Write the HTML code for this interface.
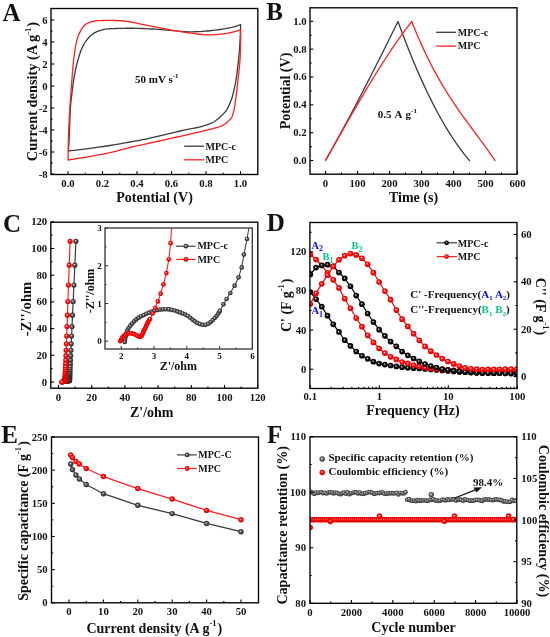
<!DOCTYPE html>
<html><head><meta charset="utf-8"><style>html,body{margin:0;padding:0;background:#fff;width:550px;height:637px;overflow:hidden}</style></head>
<body>
<svg width="550" height="637" viewBox="0 0 550 637" style="display:block;filter:blur(0.3px);font-family:'Liberation Serif',serif;font-weight:bold">
<defs>
<radialGradient id="gk" cx="0.5" cy="0.5" r="0.5" fx="0.42" fy="0.4"><stop offset="0" stop-color="#fff"/><stop offset="0.22" stop-color="#777"/><stop offset="0.42" stop-color="#111"/><stop offset="1" stop-color="#000"/></radialGradient>
<radialGradient id="gg" cx="0.5" cy="0.5" r="0.5" fx="0.4" fy="0.38"><stop offset="0" stop-color="#fff"/><stop offset="0.3" stop-color="#999"/><stop offset="0.65" stop-color="#555"/><stop offset="1" stop-color="#333"/></radialGradient>
<radialGradient id="gr" cx="0.5" cy="0.5" r="0.5" fx="0.4" fy="0.38"><stop offset="0" stop-color="#fff"/><stop offset="0.28" stop-color="#ff5050"/><stop offset="0.6" stop-color="#ff0000"/><stop offset="1" stop-color="#e00000"/></radialGradient>
<radialGradient id="gc" cx="0.5" cy="0.5" r="0.5" fx="0.4" fy="0.38"><stop offset="0" stop-color="#f4f4f4"/><stop offset="0.3" stop-color="#777"/><stop offset="0.65" stop-color="#444"/><stop offset="1" stop-color="#262626"/></radialGradient>
</defs>
<rect width="550" height="637" fill="#fff"/>
<polyline points="68.40,151.00 68.48,149.81 68.59,148.19 68.72,146.25 68.86,144.15 68.99,142.02 69.10,140.00 69.19,138.14 69.27,136.33 69.35,134.50 69.43,132.56 69.51,130.42 69.60,128.00 69.69,125.21 69.78,122.09 69.87,118.77 69.99,115.40 70.12,112.10 70.30,109.00 70.52,106.12 70.77,103.34 71.05,100.64 71.35,97.97 71.67,95.30 72.00,92.60 72.34,89.84 72.69,87.05 73.06,84.26 73.45,81.50 73.86,78.81 74.30,76.20 74.75,73.70 75.22,71.30 75.71,68.95 76.23,66.64 76.79,64.33 77.40,62.00 78.06,59.60 78.77,57.15 79.52,54.71 80.31,52.33 81.13,50.07 82.00,48.00 82.91,46.11 83.86,44.37 84.85,42.74 85.87,41.23 86.93,39.82 88.00,38.50 89.08,37.28 90.17,36.17 91.29,35.16 92.45,34.24 93.68,33.39 95.00,32.60 96.47,31.87 98.10,31.20 99.79,30.61 101.46,30.10 103.03,29.66 104.40,29.30 105.50,29.05 106.39,28.92 107.16,28.87 107.95,28.86 108.86,28.85 110.00,28.80 111.34,28.72 112.79,28.65 114.35,28.57 116.06,28.51 117.94,28.45 120.00,28.40 122.28,28.35 124.78,28.31 127.44,28.27 130.22,28.25 133.09,28.26 136.00,28.30 139.00,28.39 142.15,28.50 145.38,28.65 148.63,28.82 151.86,29.00 155.00,29.20 158.07,29.42 161.11,29.67 164.12,29.94 167.11,30.21 170.07,30.47 173.00,30.70 175.91,30.93 178.81,31.16 181.69,31.38 184.52,31.57 187.29,31.72 190.00,31.80 192.62,31.81 195.15,31.77 197.62,31.68 200.07,31.54 202.52,31.38 205.00,31.20 207.53,30.99 210.11,30.73 212.69,30.45 215.22,30.14 217.67,29.82 220.00,29.50 222.21,29.17 224.34,28.82 226.39,28.46 228.36,28.08 230.23,27.70 232.00,27.30 233.74,26.86 235.47,26.37 237.10,25.86 238.57,25.39 239.79,24.99 240.70,24.70 240.61,26.97 240.48,30.16 240.33,33.91 240.16,37.87 239.98,41.69 239.80,45.00 239.62,47.75 239.44,50.21 239.25,52.52 239.04,54.83 238.79,57.27 238.50,60.00 238.16,63.09 237.79,66.44 237.39,69.94 236.95,73.44 236.49,76.84 236.00,80.00 235.46,83.00 234.87,85.96 234.25,88.81 233.63,91.48 233.04,93.90 232.50,96.00 232.04,97.69 231.63,99.00 231.24,100.06 230.86,101.00 230.46,101.94 230.00,103.00 229.49,104.20 228.95,105.43 228.39,106.66 227.80,107.85 227.21,108.98 226.60,110.00 225.98,110.91 225.33,111.72 224.67,112.47 224.00,113.17 223.34,113.84 222.70,114.50 222.09,115.14 221.50,115.73 220.92,116.29 220.32,116.85 219.69,117.41 219.00,118.00 218.23,118.64 217.39,119.32 216.52,120.01 215.64,120.67 214.79,121.28 214.00,121.80 213.34,122.20 212.81,122.49 212.31,122.73 211.74,122.96 211.00,123.24 210.00,123.60 208.80,124.05 207.48,124.56 206.00,125.11 204.30,125.69 202.31,126.29 200.00,126.90 197.36,127.50 194.44,128.09 191.25,128.71 187.78,129.37 184.03,130.13 180.00,131.00 175.46,132.06 170.37,133.30 165.00,134.62 159.63,135.94 154.54,137.16 150.00,138.20 146.09,139.03 142.59,139.73 139.38,140.33 136.30,140.88 133.22,141.42 130.00,142.00 126.67,142.61 123.33,143.21 120.00,143.81 116.67,144.40 113.33,144.96 110.00,145.50 106.69,146.01 103.39,146.49 100.10,146.95 96.79,147.40 93.43,147.85 90.00,148.30 86.24,148.79 82.12,149.31 77.95,149.83 74.06,150.30 70.77,150.71 68.40,151.00" fill="none" stroke="#3a3a3a" stroke-width="1.3" stroke-linejoin="round" stroke-linecap="round"/>
<polyline points="68.10,160.00 68.11,159.00 68.11,157.68 68.12,156.09 68.14,154.25 68.16,152.21 68.20,150.00 68.24,147.60 68.28,144.98 68.33,142.15 68.40,139.13 68.48,135.94 68.60,132.60 68.75,129.02 68.92,125.19 69.12,121.17 69.33,117.08 69.56,112.99 69.80,109.00 70.05,105.09 70.32,101.19 70.61,97.30 70.90,93.41 71.20,89.51 71.50,85.60 71.79,81.62 72.09,77.57 72.38,73.51 72.69,69.52 73.03,65.66 73.40,62.00 73.81,58.49 74.24,55.07 74.70,51.79 75.18,48.68 75.68,45.80 76.20,43.20 76.72,40.93 77.23,38.97 77.76,37.24 78.33,35.65 78.97,34.13 79.70,32.60 80.50,31.04 81.36,29.51 82.28,28.05 83.29,26.69 84.39,25.46 85.60,24.40 87.02,23.52 88.64,22.80 90.36,22.21 92.06,21.73 93.65,21.34 95.00,21.00 96.03,20.76 96.81,20.64 97.46,20.60 98.13,20.61 98.93,20.62 100.00,20.60 101.30,20.54 102.70,20.48 104.25,20.42 105.96,20.38 107.87,20.37 110.00,20.40 112.42,20.46 115.11,20.52 118.00,20.61 121.00,20.76 124.03,20.98 127.00,21.30 129.93,21.74 132.89,22.29 135.88,22.92 138.89,23.59 141.93,24.26 145.00,24.90 148.12,25.53 151.30,26.18 154.50,26.83 157.70,27.48 160.88,28.10 164.00,28.70 167.06,29.26 170.07,29.81 173.06,30.33 176.04,30.84 179.01,31.33 182.00,31.80 185.07,32.27 188.22,32.75 191.38,33.21 194.44,33.64 197.35,34.01 200.00,34.30 202.34,34.52 204.41,34.68 206.31,34.78 208.15,34.83 210.01,34.84 212.00,34.80 214.16,34.71 216.41,34.55 218.69,34.34 220.93,34.11 223.05,33.85 225.00,33.60 226.76,33.34 228.38,33.05 229.89,32.74 231.32,32.43 232.68,32.11 234.00,31.80 235.33,31.47 236.65,31.10 237.91,30.74 239.05,30.40 240.00,30.11 240.70,29.90 240.68,31.54 240.66,33.82 240.63,36.51 240.60,39.41 240.55,42.31 240.50,45.00 240.45,47.45 240.41,49.82 240.36,52.19 240.29,54.63 240.17,57.21 240.00,60.00 239.75,63.08 239.44,66.41 239.09,69.88 238.72,73.37 238.35,76.78 238.00,80.00 237.67,83.05 237.33,86.04 237.00,88.94 236.67,91.74 236.33,94.43 236.00,97.00 235.67,99.46 235.35,101.83 235.03,104.09 234.70,106.22 234.36,108.20 234.00,110.00 233.64,111.59 233.30,112.99 232.94,114.24 232.54,115.37 232.07,116.45 231.50,117.50 230.82,118.52 230.04,119.46 229.19,120.33 228.29,121.16 227.36,121.94 226.40,122.70 225.57,123.40 224.87,124.01 224.13,124.59 223.19,125.17 221.87,125.80 220.00,126.50 217.51,127.29 214.53,128.14 211.16,129.03 207.54,129.95 203.78,130.88 200.00,131.80 196.12,132.73 192.04,133.68 187.81,134.64 183.52,135.60 179.22,136.56 175.00,137.50 170.78,138.44 166.48,139.39 162.19,140.32 157.96,141.25 153.88,142.14 150.00,143.00 146.38,143.80 142.96,144.55 139.69,145.27 136.48,145.99 133.28,146.72 130.00,147.50 126.67,148.34 123.33,149.24 120.00,150.15 116.67,151.05 113.33,151.91 110.00,152.70 106.69,153.40 103.40,154.05 100.11,154.65 96.80,155.23 93.44,155.81 90.00,156.40 86.22,157.05 82.06,157.74 77.85,158.43 73.92,159.07 70.59,159.61 68.20,160.00" fill="none" stroke="#ff2020" stroke-width="1.3" stroke-linejoin="round" stroke-linecap="round"/>
<rect x="51.00" y="8.50" width="206.80" height="166.00" fill="none" stroke="#000" stroke-width="1.35"/>
<line x1="68.00" y1="174.50" x2="68.00" y2="171.20" stroke="#000" stroke-width="1.1" />
<line x1="102.50" y1="174.50" x2="102.50" y2="171.20" stroke="#000" stroke-width="1.1" />
<line x1="137.00" y1="174.50" x2="137.00" y2="171.20" stroke="#000" stroke-width="1.1" />
<line x1="171.50" y1="174.50" x2="171.50" y2="171.20" stroke="#000" stroke-width="1.1" />
<line x1="206.00" y1="174.50" x2="206.00" y2="171.20" stroke="#000" stroke-width="1.1" />
<line x1="240.50" y1="174.50" x2="240.50" y2="171.20" stroke="#000" stroke-width="1.1" />
<line x1="85.25" y1="174.50" x2="85.25" y2="172.80" stroke="#000" stroke-width="1.1" />
<line x1="119.75" y1="174.50" x2="119.75" y2="172.80" stroke="#000" stroke-width="1.1" />
<line x1="154.25" y1="174.50" x2="154.25" y2="172.80" stroke="#000" stroke-width="1.1" />
<line x1="188.75" y1="174.50" x2="188.75" y2="172.80" stroke="#000" stroke-width="1.1" />
<line x1="223.25" y1="174.50" x2="223.25" y2="172.80" stroke="#000" stroke-width="1.1" />
<line x1="51.00" y1="174.00" x2="54.30" y2="174.00" stroke="#000" stroke-width="1.1" />
<line x1="51.00" y1="152.00" x2="54.30" y2="152.00" stroke="#000" stroke-width="1.1" />
<line x1="51.00" y1="130.00" x2="54.30" y2="130.00" stroke="#000" stroke-width="1.1" />
<line x1="51.00" y1="108.00" x2="54.30" y2="108.00" stroke="#000" stroke-width="1.1" />
<line x1="51.00" y1="86.00" x2="54.30" y2="86.00" stroke="#000" stroke-width="1.1" />
<line x1="51.00" y1="64.00" x2="54.30" y2="64.00" stroke="#000" stroke-width="1.1" />
<line x1="51.00" y1="42.00" x2="54.30" y2="42.00" stroke="#000" stroke-width="1.1" />
<line x1="51.00" y1="20.00" x2="54.30" y2="20.00" stroke="#000" stroke-width="1.1" />
<line x1="51.00" y1="163.00" x2="52.70" y2="163.00" stroke="#000" stroke-width="1.1" />
<line x1="51.00" y1="141.00" x2="52.70" y2="141.00" stroke="#000" stroke-width="1.1" />
<line x1="51.00" y1="119.00" x2="52.70" y2="119.00" stroke="#000" stroke-width="1.1" />
<line x1="51.00" y1="97.00" x2="52.70" y2="97.00" stroke="#000" stroke-width="1.1" />
<line x1="51.00" y1="75.00" x2="52.70" y2="75.00" stroke="#000" stroke-width="1.1" />
<line x1="51.00" y1="53.00" x2="52.70" y2="53.00" stroke="#000" stroke-width="1.1" />
<line x1="51.00" y1="31.00" x2="52.70" y2="31.00" stroke="#000" stroke-width="1.1" />
<text x="68.00" y="187.00" font-size="10.7" text-anchor="middle" fill="#111" font-weight="bold" >0.0</text>
<text x="102.50" y="187.00" font-size="10.7" text-anchor="middle" fill="#111" font-weight="bold" >0.2</text>
<text x="137.00" y="187.00" font-size="10.7" text-anchor="middle" fill="#111" font-weight="bold" >0.4</text>
<text x="171.50" y="187.00" font-size="10.7" text-anchor="middle" fill="#111" font-weight="bold" >0.6</text>
<text x="206.00" y="187.00" font-size="10.7" text-anchor="middle" fill="#111" font-weight="bold" >0.8</text>
<text x="240.50" y="187.00" font-size="10.7" text-anchor="middle" fill="#111" font-weight="bold" >1.0</text>
<text x="47.60" y="177.50" font-size="10.7" text-anchor="end" fill="#111" font-weight="bold" >-8</text>
<text x="47.60" y="155.50" font-size="10.7" text-anchor="end" fill="#111" font-weight="bold" >-6</text>
<text x="47.60" y="133.50" font-size="10.7" text-anchor="end" fill="#111" font-weight="bold" >-4</text>
<text x="47.60" y="111.50" font-size="10.7" text-anchor="end" fill="#111" font-weight="bold" >-2</text>
<text x="47.60" y="89.50" font-size="10.7" text-anchor="end" fill="#111" font-weight="bold" >0</text>
<text x="47.60" y="67.50" font-size="10.7" text-anchor="end" fill="#111" font-weight="bold" >2</text>
<text x="47.60" y="45.50" font-size="10.7" text-anchor="end" fill="#111" font-weight="bold" >4</text>
<text x="47.60" y="23.50" font-size="10.7" text-anchor="end" fill="#111" font-weight="bold" >6</text>
<text x="154.50" y="202.00" font-size="14" text-anchor="middle" fill="#111" font-weight="bold" >Potential (V)</text>
<text x="37.20" y="91.50" font-size="14.4" text-anchor="middle" fill="#111" font-weight="bold" transform="rotate(-90 37.20 91.50)" >Current density (A g<tspan font-size="8.5" dy="-6.4">-1</tspan><tspan dy="6.4" dx="1">)</tspan></text>
<text x="135.00" y="83.20" font-size="11" text-anchor="start" fill="#111" font-weight="bold" >50 mV s<tspan font-size="7" dy="-5.2">-1</tspan></text>
<line x1="184.20" y1="146.20" x2="204.00" y2="146.20" stroke="#3a3a3a" stroke-width="1.3" />
<line x1="184.20" y1="159.80" x2="204.00" y2="159.80" stroke="#ff2020" stroke-width="1.3" />
<text x="205.50" y="149.60" font-size="10" text-anchor="start" fill="#111" font-weight="bold" >MPC-c</text>
<text x="205.50" y="163.00" font-size="10" text-anchor="start" fill="#111" font-weight="bold" >MPC</text>
<text x="2.50" y="21.00" font-size="25" text-anchor="start" fill="#111" font-weight="bold" >A</text>
<polyline points="325.50,160.50 327.36,157.23 329.22,153.93 331.08,150.62 332.94,147.29 334.79,143.94 336.65,140.57 338.51,137.18 340.37,133.78 342.23,130.36 344.09,126.92 345.95,123.46 347.81,119.99 349.67,116.51 351.53,113.01 353.38,109.49 355.24,105.96 357.10,102.41 358.96,98.85 360.82,95.28 362.68,91.70 364.54,88.10 366.40,84.48 368.26,80.86 370.12,77.23 371.97,73.58 373.83,69.92 375.69,66.25 377.55,62.57 379.41,58.88 381.27,55.18 383.13,51.47 384.99,47.75 386.85,44.03 388.71,40.29 390.56,36.55 392.42,32.80 394.28,29.04 396.14,25.27 398.00,21.50 399.83,26.51 401.67,31.45 403.50,36.31 405.33,41.09 407.17,45.79 409.00,50.42 410.83,54.96 412.67,59.43 414.50,63.82 416.33,68.14 418.17,72.38 420.00,76.54 421.83,80.62 423.67,84.63 425.50,88.56 427.33,92.42 429.17,96.19 431.00,99.90 432.83,103.53 434.67,107.08 436.50,110.56 438.33,113.96 440.17,117.29 442.00,120.54 443.83,123.72 445.67,126.82 447.50,129.85 449.33,132.81 451.17,135.69 453.00,138.50 454.83,141.23 456.67,143.90 458.50,146.49 460.33,149.00 462.17,151.45 464.00,153.82 465.83,156.12 467.67,158.34 469.50,160.50" fill="none" stroke="#3a3a3a" stroke-width="1.3" stroke-linejoin="round" stroke-linecap="round"/>
<polyline points="325.50,160.50 327.71,156.58 329.93,152.66 332.14,148.74 334.35,144.82 336.56,140.91 338.78,137.00 340.99,133.10 343.20,129.21 345.42,125.32 347.63,121.45 349.84,117.59 352.05,113.75 354.27,109.92 356.48,106.11 358.69,102.32 360.91,98.55 363.12,94.81 365.33,91.09 367.54,87.39 369.76,83.73 371.97,80.09 374.18,76.49 376.39,72.91 378.61,69.37 380.82,65.87 383.03,62.40 385.25,58.98 387.46,55.59 389.67,52.25 391.88,48.95 394.10,45.70 396.31,42.49 398.52,39.33 400.74,36.22 402.95,33.17 405.16,30.17 407.37,27.22 409.59,24.33 411.80,21.50 413.93,26.90 416.07,32.14 418.20,37.21 420.33,42.12 422.47,46.88 424.60,51.49 426.73,55.97 428.87,60.30 431.00,64.51 433.13,68.60 435.27,72.57 437.40,76.43 439.53,80.19 441.67,83.85 443.80,87.41 445.93,90.89 448.07,94.29 450.20,97.61 452.33,100.86 454.47,104.05 456.60,107.18 458.73,110.26 460.87,113.30 463.00,116.29 465.13,119.25 467.27,122.19 469.40,125.10 471.53,128.00 473.67,130.88 475.80,133.76 477.93,136.65 480.07,139.54 482.20,142.45 484.33,145.37 486.47,148.32 488.60,151.30 490.73,154.32 492.87,157.39 495.00,160.50" fill="none" stroke="#ff2020" stroke-width="1.3" stroke-linejoin="round" stroke-linecap="round"/>
<rect x="310.00" y="7.80" width="207.00" height="166.40" fill="none" stroke="#000" stroke-width="1.35"/>
<line x1="325.50" y1="174.20" x2="325.50" y2="170.90" stroke="#000" stroke-width="1.1" />
<line x1="357.50" y1="174.20" x2="357.50" y2="170.90" stroke="#000" stroke-width="1.1" />
<line x1="389.50" y1="174.20" x2="389.50" y2="170.90" stroke="#000" stroke-width="1.1" />
<line x1="421.50" y1="174.20" x2="421.50" y2="170.90" stroke="#000" stroke-width="1.1" />
<line x1="453.50" y1="174.20" x2="453.50" y2="170.90" stroke="#000" stroke-width="1.1" />
<line x1="485.50" y1="174.20" x2="485.50" y2="170.90" stroke="#000" stroke-width="1.1" />
<line x1="517.50" y1="174.20" x2="517.50" y2="170.90" stroke="#000" stroke-width="1.1" />
<line x1="341.50" y1="174.20" x2="341.50" y2="172.50" stroke="#000" stroke-width="1.1" />
<line x1="373.50" y1="174.20" x2="373.50" y2="172.50" stroke="#000" stroke-width="1.1" />
<line x1="405.50" y1="174.20" x2="405.50" y2="172.50" stroke="#000" stroke-width="1.1" />
<line x1="437.50" y1="174.20" x2="437.50" y2="172.50" stroke="#000" stroke-width="1.1" />
<line x1="469.50" y1="174.20" x2="469.50" y2="172.50" stroke="#000" stroke-width="1.1" />
<line x1="501.50" y1="174.20" x2="501.50" y2="172.50" stroke="#000" stroke-width="1.1" />
<line x1="310.00" y1="160.50" x2="313.30" y2="160.50" stroke="#000" stroke-width="1.1" />
<line x1="310.00" y1="132.66" x2="313.30" y2="132.66" stroke="#000" stroke-width="1.1" />
<line x1="310.00" y1="104.82" x2="313.30" y2="104.82" stroke="#000" stroke-width="1.1" />
<line x1="310.00" y1="76.98" x2="313.30" y2="76.98" stroke="#000" stroke-width="1.1" />
<line x1="310.00" y1="49.14" x2="313.30" y2="49.14" stroke="#000" stroke-width="1.1" />
<line x1="310.00" y1="21.30" x2="313.30" y2="21.30" stroke="#000" stroke-width="1.1" />
<line x1="310.00" y1="146.58" x2="311.70" y2="146.58" stroke="#000" stroke-width="1.1" />
<line x1="310.00" y1="118.74" x2="311.70" y2="118.74" stroke="#000" stroke-width="1.1" />
<line x1="310.00" y1="90.90" x2="311.70" y2="90.90" stroke="#000" stroke-width="1.1" />
<line x1="310.00" y1="63.06" x2="311.70" y2="63.06" stroke="#000" stroke-width="1.1" />
<line x1="310.00" y1="35.22" x2="311.70" y2="35.22" stroke="#000" stroke-width="1.1" />
<text x="325.50" y="187.00" font-size="10.7" text-anchor="middle" fill="#111" font-weight="bold" >0</text>
<text x="357.50" y="187.00" font-size="10.7" text-anchor="middle" fill="#111" font-weight="bold" >100</text>
<text x="389.50" y="187.00" font-size="10.7" text-anchor="middle" fill="#111" font-weight="bold" >200</text>
<text x="421.50" y="187.00" font-size="10.7" text-anchor="middle" fill="#111" font-weight="bold" >300</text>
<text x="453.50" y="187.00" font-size="10.7" text-anchor="middle" fill="#111" font-weight="bold" >400</text>
<text x="485.50" y="187.00" font-size="10.7" text-anchor="middle" fill="#111" font-weight="bold" >500</text>
<text x="517.50" y="187.00" font-size="10.7" text-anchor="middle" fill="#111" font-weight="bold" >600</text>
<text x="306.50" y="164.00" font-size="10.7" text-anchor="end" fill="#111" font-weight="bold" >0.0</text>
<text x="306.50" y="136.16" font-size="10.7" text-anchor="end" fill="#111" font-weight="bold" >0.2</text>
<text x="306.50" y="108.32" font-size="10.7" text-anchor="end" fill="#111" font-weight="bold" >0.4</text>
<text x="306.50" y="80.48" font-size="10.7" text-anchor="end" fill="#111" font-weight="bold" >0.6</text>
<text x="306.50" y="52.64" font-size="10.7" text-anchor="end" fill="#111" font-weight="bold" >0.8</text>
<text x="306.50" y="24.80" font-size="10.7" text-anchor="end" fill="#111" font-weight="bold" >1.0</text>
<text x="413.50" y="202.00" font-size="14" text-anchor="middle" fill="#111" font-weight="bold" >Time (s)</text>
<text x="289.50" y="91.00" font-size="14" text-anchor="middle" fill="#111" font-weight="bold" transform="rotate(-90 289.50 91.00)" >Potential (V)</text>
<text x="377.80" y="117.70" font-size="11" text-anchor="start" fill="#111" font-weight="bold" word-spacing="0.9">0.5 A g<tspan font-size="7" dy="-5.2">-1</tspan></text>
<line x1="436.10" y1="32.30" x2="456.10" y2="32.30" stroke="#3a3a3a" stroke-width="1.3" />
<line x1="436.10" y1="46.10" x2="456.10" y2="46.10" stroke="#ff2020" stroke-width="1.3" />
<text x="457.70" y="35.50" font-size="10" text-anchor="start" fill="#111" font-weight="bold" >MPC-c</text>
<text x="457.70" y="49.30" font-size="10" text-anchor="start" fill="#111" font-weight="bold" >MPC</text>
<text x="266.30" y="20.00" font-size="25" text-anchor="start" fill="#111" font-weight="bold" >B</text>
<polyline points="75.93,241.29 74.83,265.21 73.92,285.07 73.16,301.54 72.53,315.22 72.01,326.57 71.57,336.00 71.21,343.82 70.91,350.31 70.67,355.70 70.46,360.17 70.29,363.88 70.15,366.96 70.03,369.52 69.93,371.64 69.85,373.40 69.78,374.86 69.73,376.08 69.68,377.08 69.64,377.92 69.61,378.61 69.59,379.19 69.56,379.67 69.55,380.06 69.53,380.39 69.52,380.67 68.96,380.80 67.80,381.20 66.14,381.40 64.48,380.93 62.98,381.27 61.99,382.00" fill="none" stroke="#3a3a3a" stroke-width="1.2" stroke-linejoin="round" stroke-linecap="round"/>
<polyline points="70.12,241.29 69.25,265.21 68.52,285.07 67.92,301.54 67.42,315.22 67.00,326.57 66.66,336.00 66.37,343.82 66.13,350.31 65.94,355.70 65.77,360.17 65.64,363.88 65.52,366.96 65.43,369.52 65.35,371.64 65.29,373.40 65.24,374.86 65.19,376.08 65.15,377.08 65.12,377.92 65.10,378.61 65.08,379.19 65.06,379.67 65.04,380.06 65.03,380.39 65.02,380.67 64.48,381.20 63.48,381.60 62.65,381.80 61.82,382.00" fill="none" stroke="#ff2020" stroke-width="1.2" stroke-linejoin="round" stroke-linecap="round"/>
<circle cx="75.93" cy="241.29" r="2.6" fill="url(#gc)"/>
<circle cx="74.83" cy="265.21" r="2.6" fill="url(#gc)"/>
<circle cx="73.92" cy="285.07" r="2.6" fill="url(#gc)"/>
<circle cx="73.16" cy="301.54" r="2.6" fill="url(#gc)"/>
<circle cx="72.53" cy="315.22" r="2.6" fill="url(#gc)"/>
<circle cx="72.01" cy="326.57" r="2.6" fill="url(#gc)"/>
<circle cx="71.57" cy="336.00" r="2.6" fill="url(#gc)"/>
<circle cx="71.21" cy="343.82" r="2.6" fill="url(#gc)"/>
<circle cx="70.91" cy="350.31" r="2.6" fill="url(#gc)"/>
<circle cx="70.67" cy="355.70" r="2.6" fill="url(#gc)"/>
<circle cx="70.46" cy="360.17" r="2.6" fill="url(#gc)"/>
<circle cx="70.29" cy="363.88" r="2.6" fill="url(#gc)"/>
<circle cx="70.15" cy="366.96" r="2.6" fill="url(#gc)"/>
<circle cx="70.03" cy="369.52" r="2.6" fill="url(#gc)"/>
<circle cx="69.93" cy="371.64" r="2.6" fill="url(#gc)"/>
<circle cx="69.85" cy="373.40" r="2.6" fill="url(#gc)"/>
<circle cx="69.78" cy="374.86" r="2.6" fill="url(#gc)"/>
<circle cx="69.73" cy="376.08" r="2.6" fill="url(#gc)"/>
<circle cx="69.68" cy="377.08" r="2.6" fill="url(#gc)"/>
<circle cx="69.64" cy="377.92" r="2.6" fill="url(#gc)"/>
<circle cx="69.61" cy="378.61" r="2.6" fill="url(#gc)"/>
<circle cx="69.59" cy="379.19" r="2.6" fill="url(#gc)"/>
<circle cx="69.56" cy="379.67" r="2.6" fill="url(#gc)"/>
<circle cx="69.55" cy="380.06" r="2.6" fill="url(#gc)"/>
<circle cx="69.53" cy="380.39" r="2.6" fill="url(#gc)"/>
<circle cx="69.52" cy="380.67" r="2.6" fill="url(#gc)"/>
<circle cx="68.96" cy="380.80" r="2.6" fill="url(#gc)"/>
<circle cx="67.80" cy="381.20" r="2.6" fill="url(#gc)"/>
<circle cx="66.14" cy="381.40" r="2.6" fill="url(#gc)"/>
<circle cx="64.48" cy="380.93" r="2.6" fill="url(#gc)"/>
<circle cx="62.98" cy="381.27" r="2.6" fill="url(#gc)"/>
<circle cx="61.99" cy="382.00" r="2.6" fill="url(#gc)"/>
<circle cx="70.12" cy="241.29" r="2.6" fill="url(#gr)"/>
<circle cx="69.25" cy="265.21" r="2.6" fill="url(#gr)"/>
<circle cx="68.52" cy="285.07" r="2.6" fill="url(#gr)"/>
<circle cx="67.92" cy="301.54" r="2.6" fill="url(#gr)"/>
<circle cx="67.42" cy="315.22" r="2.6" fill="url(#gr)"/>
<circle cx="67.00" cy="326.57" r="2.6" fill="url(#gr)"/>
<circle cx="66.66" cy="336.00" r="2.6" fill="url(#gr)"/>
<circle cx="66.37" cy="343.82" r="2.6" fill="url(#gr)"/>
<circle cx="66.13" cy="350.31" r="2.6" fill="url(#gr)"/>
<circle cx="65.94" cy="355.70" r="2.6" fill="url(#gr)"/>
<circle cx="65.77" cy="360.17" r="2.6" fill="url(#gr)"/>
<circle cx="65.64" cy="363.88" r="2.6" fill="url(#gr)"/>
<circle cx="65.52" cy="366.96" r="2.6" fill="url(#gr)"/>
<circle cx="65.43" cy="369.52" r="2.6" fill="url(#gr)"/>
<circle cx="65.35" cy="371.64" r="2.6" fill="url(#gr)"/>
<circle cx="65.29" cy="373.40" r="2.6" fill="url(#gr)"/>
<circle cx="65.24" cy="374.86" r="2.6" fill="url(#gr)"/>
<circle cx="65.19" cy="376.08" r="2.6" fill="url(#gr)"/>
<circle cx="65.15" cy="377.08" r="2.6" fill="url(#gr)"/>
<circle cx="65.12" cy="377.92" r="2.6" fill="url(#gr)"/>
<circle cx="65.10" cy="378.61" r="2.6" fill="url(#gr)"/>
<circle cx="65.08" cy="379.19" r="2.6" fill="url(#gr)"/>
<circle cx="65.06" cy="379.67" r="2.6" fill="url(#gr)"/>
<circle cx="65.04" cy="380.06" r="2.6" fill="url(#gr)"/>
<circle cx="65.03" cy="380.39" r="2.6" fill="url(#gr)"/>
<circle cx="65.02" cy="380.67" r="2.6" fill="url(#gr)"/>
<circle cx="64.48" cy="381.20" r="2.6" fill="url(#gr)"/>
<circle cx="63.48" cy="381.60" r="2.6" fill="url(#gr)"/>
<circle cx="62.65" cy="381.80" r="2.6" fill="url(#gr)"/>
<circle cx="61.82" cy="382.00" r="2.6" fill="url(#gr)"/>
<rect x="50.80" y="222.20" width="207.00" height="166.00" fill="none" stroke="#000" stroke-width="1.35"/>
<line x1="58.50" y1="388.20" x2="58.50" y2="384.90" stroke="#000" stroke-width="1.1" />
<line x1="91.70" y1="388.20" x2="91.70" y2="384.90" stroke="#000" stroke-width="1.1" />
<line x1="124.90" y1="388.20" x2="124.90" y2="384.90" stroke="#000" stroke-width="1.1" />
<line x1="158.10" y1="388.20" x2="158.10" y2="384.90" stroke="#000" stroke-width="1.1" />
<line x1="191.30" y1="388.20" x2="191.30" y2="384.90" stroke="#000" stroke-width="1.1" />
<line x1="224.50" y1="388.20" x2="224.50" y2="384.90" stroke="#000" stroke-width="1.1" />
<line x1="257.70" y1="388.20" x2="257.70" y2="384.90" stroke="#000" stroke-width="1.1" />
<line x1="75.10" y1="388.20" x2="75.10" y2="386.50" stroke="#000" stroke-width="1.1" />
<line x1="108.30" y1="388.20" x2="108.30" y2="386.50" stroke="#000" stroke-width="1.1" />
<line x1="141.50" y1="388.20" x2="141.50" y2="386.50" stroke="#000" stroke-width="1.1" />
<line x1="174.70" y1="388.20" x2="174.70" y2="386.50" stroke="#000" stroke-width="1.1" />
<line x1="207.90" y1="388.20" x2="207.90" y2="386.50" stroke="#000" stroke-width="1.1" />
<line x1="241.10" y1="388.20" x2="241.10" y2="386.50" stroke="#000" stroke-width="1.1" />
<line x1="50.80" y1="382.00" x2="54.10" y2="382.00" stroke="#000" stroke-width="1.1" />
<line x1="50.80" y1="355.30" x2="54.10" y2="355.30" stroke="#000" stroke-width="1.1" />
<line x1="50.80" y1="328.60" x2="54.10" y2="328.60" stroke="#000" stroke-width="1.1" />
<line x1="50.80" y1="301.90" x2="54.10" y2="301.90" stroke="#000" stroke-width="1.1" />
<line x1="50.80" y1="275.20" x2="54.10" y2="275.20" stroke="#000" stroke-width="1.1" />
<line x1="50.80" y1="248.50" x2="54.10" y2="248.50" stroke="#000" stroke-width="1.1" />
<line x1="50.80" y1="221.80" x2="54.10" y2="221.80" stroke="#000" stroke-width="1.1" />
<line x1="50.80" y1="368.65" x2="52.50" y2="368.65" stroke="#000" stroke-width="1.1" />
<line x1="50.80" y1="341.95" x2="52.50" y2="341.95" stroke="#000" stroke-width="1.1" />
<line x1="50.80" y1="315.25" x2="52.50" y2="315.25" stroke="#000" stroke-width="1.1" />
<line x1="50.80" y1="288.55" x2="52.50" y2="288.55" stroke="#000" stroke-width="1.1" />
<line x1="50.80" y1="261.85" x2="52.50" y2="261.85" stroke="#000" stroke-width="1.1" />
<line x1="50.80" y1="235.15" x2="52.50" y2="235.15" stroke="#000" stroke-width="1.1" />
<text x="58.50" y="401.30" font-size="10.7" text-anchor="middle" fill="#111" font-weight="bold" >0</text>
<text x="91.70" y="401.30" font-size="10.7" text-anchor="middle" fill="#111" font-weight="bold" >20</text>
<text x="124.90" y="401.30" font-size="10.7" text-anchor="middle" fill="#111" font-weight="bold" >40</text>
<text x="158.10" y="401.30" font-size="10.7" text-anchor="middle" fill="#111" font-weight="bold" >60</text>
<text x="191.30" y="401.30" font-size="10.7" text-anchor="middle" fill="#111" font-weight="bold" >80</text>
<text x="224.50" y="401.30" font-size="10.7" text-anchor="middle" fill="#111" font-weight="bold" >100</text>
<text x="257.70" y="401.30" font-size="10.7" text-anchor="middle" fill="#111" font-weight="bold" >120</text>
<text x="47.20" y="385.50" font-size="10.7" text-anchor="end" fill="#111" font-weight="bold" >0</text>
<text x="47.20" y="358.80" font-size="10.7" text-anchor="end" fill="#111" font-weight="bold" >20</text>
<text x="47.20" y="332.10" font-size="10.7" text-anchor="end" fill="#111" font-weight="bold" >40</text>
<text x="47.20" y="305.40" font-size="10.7" text-anchor="end" fill="#111" font-weight="bold" >60</text>
<text x="47.20" y="278.70" font-size="10.7" text-anchor="end" fill="#111" font-weight="bold" >80</text>
<text x="47.20" y="252.00" font-size="10.7" text-anchor="end" fill="#111" font-weight="bold" >100</text>
<text x="47.20" y="225.30" font-size="10.7" text-anchor="end" fill="#111" font-weight="bold" >120</text>
<text x="151.70" y="416.50" font-size="14" text-anchor="middle" fill="#111" font-weight="bold" >Z'/ohm</text>
<text x="31.40" y="309.00" font-size="14.6" text-anchor="middle" fill="#111" font-weight="bold" transform="rotate(-90 31.40 309.00)" >-Z''/ohm</text>
<text x="3.00" y="231.50" font-size="25" text-anchor="start" fill="#111" font-weight="bold" >C</text>
<rect x="105" y="228" width="147.3" height="121" fill="#fff" stroke="#333" stroke-width="1.3"/>
<clipPath id="cin"><rect x="105" y="228" width="147.3" height="121"/></clipPath>
<g clip-path="url(#cin)">
<polyline points="124.80,341.90 124.84,341.61 124.88,341.25 124.93,340.82 124.99,340.35 125.06,339.82 125.13,339.27 125.21,338.71 125.30,338.13 125.39,337.56 125.50,337.00 125.62,336.43 125.74,335.83 125.88,335.20 126.02,334.56 126.17,333.91 126.33,333.27 126.49,332.65 126.66,332.06 126.83,331.50 127.00,331.00 127.18,330.55 127.36,330.13 127.55,329.75 127.74,329.40 127.94,329.07 128.15,328.75 128.35,328.44 128.57,328.13 128.78,327.82 129.00,327.50 129.22,327.17 129.45,326.85 129.68,326.53 129.92,326.22 130.16,325.91 130.41,325.61 130.65,325.30 130.90,325.00 131.15,324.70 131.40,324.40 131.65,324.10 131.90,323.80 132.16,323.50 132.42,323.21 132.68,322.91 132.94,322.62 133.20,322.33 133.46,322.05 133.73,321.77 134.00,321.50 134.27,321.23 134.54,320.97 134.81,320.71 135.09,320.46 135.36,320.21 135.64,319.96 135.92,319.72 136.21,319.47 136.50,319.24 136.80,319.00 137.10,318.77 137.41,318.53 137.72,318.30 138.04,318.07 138.36,317.84 138.69,317.62 139.01,317.41 139.34,317.20 139.67,316.99 140.00,316.80 140.33,316.62 140.67,316.44 141.01,316.27 141.36,316.11 141.71,315.96 142.05,315.80 142.40,315.65 142.74,315.50 143.07,315.35 143.40,315.20 143.72,315.05 144.03,314.89 144.34,314.74 144.65,314.58 144.95,314.43 145.25,314.28 145.56,314.13 145.87,313.99 146.18,313.84 146.50,313.70 146.83,313.56 147.17,313.43 147.51,313.29 147.85,313.16 148.20,313.03 148.55,312.90 148.89,312.78 149.23,312.65 149.57,312.53 149.90,312.40 150.22,312.27 150.53,312.15 150.84,312.02 151.15,311.90 151.45,311.77 151.75,311.65 152.06,311.53 152.37,311.42 152.68,311.31 153.00,311.20 153.33,311.10 153.66,311.00 153.99,310.90 154.33,310.81 154.67,310.72 155.01,310.63 155.36,310.55 155.70,310.46 156.05,310.38 156.40,310.30 156.75,310.22 157.10,310.14 157.45,310.06 157.81,309.99 158.16,309.91 158.52,309.84 158.88,309.77 159.25,309.71 159.62,309.65 160.00,309.60 160.38,309.55 160.77,309.51 161.17,309.47 161.57,309.44 161.97,309.41 162.38,309.38 162.79,309.36 163.19,309.33 163.60,309.32 164.00,309.30 164.40,309.29 164.80,309.27 165.20,309.26 165.60,309.25 166.00,309.24 166.40,309.24 166.80,309.25 167.20,309.26 167.60,309.27 168.00,309.30 168.40,309.33 168.80,309.38 169.20,309.42 169.60,309.48 170.01,309.54 170.41,309.60 170.81,309.67 171.21,309.74 171.60,309.82 172.00,309.90 172.39,309.98 172.77,310.06 173.14,310.14 173.51,310.23 173.88,310.32 174.26,310.42 174.64,310.52 175.04,310.64 175.46,310.76 175.90,310.90 176.36,311.05 176.83,311.21 177.32,311.38 177.82,311.57 178.33,311.76 178.85,311.95 179.38,312.16 179.92,312.37 180.46,312.58 181.00,312.80 181.56,313.02 182.14,313.26 182.75,313.49 183.36,313.74 183.97,313.99 184.58,314.24 185.17,314.50 185.74,314.76 186.29,315.03 186.80,315.30 187.27,315.57 187.72,315.85 188.14,316.14 188.55,316.43 188.94,316.73 189.32,317.02 189.69,317.32 190.05,317.61 190.42,317.91 190.80,318.20 191.18,318.49 191.55,318.79 191.91,319.09 192.27,319.39 192.63,319.69 192.98,319.99 193.33,320.28 193.69,320.56 194.04,320.84 194.40,321.10 194.76,321.35 195.13,321.60 195.50,321.85 195.87,322.08 196.24,322.31 196.60,322.53 196.96,322.74 197.32,322.94 197.66,323.13 198.00,323.30 198.32,323.46 198.63,323.60 198.93,323.73 199.23,323.85 199.52,323.96 199.81,324.06 200.10,324.15 200.39,324.24 200.69,324.32 201.00,324.40 201.32,324.48 201.64,324.56 201.97,324.63 202.30,324.70 202.64,324.76 202.97,324.82 203.31,324.86 203.64,324.89 203.97,324.90 204.30,324.90 204.62,324.89 204.94,324.86 205.26,324.83 205.58,324.78 205.90,324.72 206.22,324.65 206.54,324.57 206.86,324.46 207.18,324.34 207.50,324.20 207.83,324.04 208.16,323.85 208.50,323.64 208.84,323.41 209.18,323.17 209.52,322.92 209.85,322.66 210.18,322.40 210.49,322.15 210.80,321.90 211.09,321.65 211.38,321.41 211.65,321.16 211.92,320.91 212.18,320.65 212.44,320.39 212.70,320.13 212.96,319.86 213.23,319.58 213.50,319.30 213.78,319.01 214.06,318.72 214.34,318.42 214.63,318.11 214.91,317.80 215.20,317.49 215.48,317.17 215.76,316.85 216.03,316.52 216.30,316.20 216.56,315.88 216.82,315.55 217.08,315.22 217.34,314.90 217.59,314.56 217.84,314.22 218.08,313.88 218.32,313.53 218.56,313.17 218.80,312.80 219.04,312.40 219.29,311.96 219.55,311.49 219.81,311.01 220.06,310.54 220.29,310.08 220.51,309.65 220.71,309.27 220.87,308.95 221.00,308.70 223.40,304.30 226.60,299.00 230.30,293.00 234.60,285.70 238.60,277.30 241.70,267.40 243.90,254.60 247.00,239.00 249.60,224.00" fill="none" stroke="#444" stroke-width="1.1" stroke-linejoin="round" stroke-linecap="round"/>
<polyline points="120.30,341.20 120.39,341.03 120.49,340.82 120.62,340.56 120.76,340.27 120.91,339.96 121.08,339.64 121.25,339.31 121.43,338.99 121.61,338.68 121.80,338.40 121.99,338.13 122.18,337.85 122.38,337.58 122.59,337.31 122.81,337.04 123.03,336.77 123.26,336.51 123.50,336.27 123.74,336.03 124.00,335.80 124.27,335.58 124.56,335.37 124.86,335.17 125.17,334.97 125.48,334.79 125.80,334.61 126.11,334.44 126.42,334.28 126.72,334.14 127.00,334.00 127.27,333.87 127.53,333.76 127.79,333.65 128.04,333.56 128.28,333.47 128.52,333.39 128.77,333.33 129.01,333.27 129.25,333.23 129.50,333.20 129.75,333.18 130.00,333.18 130.25,333.19 130.50,333.22 130.75,333.25 131.00,333.29 131.25,333.34 131.50,333.39 131.75,333.44 132.00,333.50 132.25,333.56 132.50,333.62 132.75,333.69 133.00,333.76 133.25,333.84 133.50,333.93 133.75,334.01 134.00,334.11 134.25,334.20 134.50,334.30 134.75,334.40 135.00,334.51 135.25,334.63 135.50,334.75 135.75,334.87 136.00,334.99 136.25,335.12 136.50,335.25 136.75,335.37 137.00,335.50 137.25,335.63 137.52,335.78 137.78,335.93 138.05,336.09 138.31,336.24 138.57,336.39 138.82,336.52 139.06,336.64 139.29,336.73 139.50,336.80 139.69,336.84 139.86,336.88 140.02,336.90 140.17,336.90 140.31,336.89 140.45,336.86 140.58,336.80 140.72,336.73 140.85,336.63 141.00,336.50 141.15,336.34 141.30,336.16 141.45,335.94 141.60,335.71 141.75,335.45 141.90,335.18 142.05,334.89 142.20,334.60 142.35,334.30 142.50,334.00 142.65,333.69 142.80,333.35 142.95,333.00 143.10,332.64 143.25,332.27 143.40,331.90 143.55,331.53 143.70,331.17 143.85,330.83 144.00,330.50 144.15,330.20 144.29,329.93 144.43,329.67 144.58,329.42 144.72,329.17 144.86,328.92 145.01,328.66 145.17,328.37 145.33,328.05 145.50,327.70 145.68,327.31 145.85,326.88 146.03,326.43 146.22,325.96 146.41,325.47 146.61,324.97 146.82,324.47 147.03,323.97 147.26,323.48 147.50,323.00 147.77,322.51 148.07,321.98 148.40,321.44 148.73,320.89 149.07,320.36 149.41,319.84 149.71,319.36 149.99,318.94 150.22,318.58 150.40,318.30 152.70,313.40 155.20,307.80 157.90,301.40 160.60,293.70 163.40,284.40 166.40,273.10 168.80,259.30 170.60,243.20 171.80,224.00" fill="none" stroke="#ff2020" stroke-width="1.1" stroke-linejoin="round" stroke-linecap="round"/>
<circle cx="124.80" cy="341.90" r="2.35" fill="url(#gc)"/>
<circle cx="125.16" cy="339.02" r="2.35" fill="url(#gc)"/>
<circle cx="125.67" cy="336.17" r="2.35" fill="url(#gc)"/>
<circle cx="126.31" cy="333.34" r="2.35" fill="url(#gc)"/>
<circle cx="127.17" cy="330.57" r="2.35" fill="url(#gc)"/>
<circle cx="128.61" cy="328.07" r="2.35" fill="url(#gc)"/>
<circle cx="130.32" cy="325.72" r="2.35" fill="url(#gc)"/>
<circle cx="132.17" cy="323.49" r="2.35" fill="url(#gc)"/>
<circle cx="134.14" cy="321.36" r="2.35" fill="url(#gc)"/>
<circle cx="136.29" cy="319.41" r="2.35" fill="url(#gc)"/>
<circle cx="138.61" cy="317.68" r="2.35" fill="url(#gc)"/>
<circle cx="141.11" cy="316.23" r="2.35" fill="url(#gc)"/>
<circle cx="143.76" cy="315.03" r="2.35" fill="url(#gc)"/>
<circle cx="146.36" cy="313.76" r="2.35" fill="url(#gc)"/>
<circle cx="149.07" cy="312.71" r="2.35" fill="url(#gc)"/>
<circle cx="151.76" cy="311.65" r="2.35" fill="url(#gc)"/>
<circle cx="154.52" cy="310.76" r="2.35" fill="url(#gc)"/>
<circle cx="157.34" cy="310.09" r="2.35" fill="url(#gc)"/>
<circle cx="160.20" cy="309.58" r="2.35" fill="url(#gc)"/>
<circle cx="163.09" cy="309.34" r="2.35" fill="url(#gc)"/>
<circle cx="165.98" cy="309.24" r="2.35" fill="url(#gc)"/>
<circle cx="168.88" cy="309.38" r="2.35" fill="url(#gc)"/>
<circle cx="171.74" cy="309.85" r="2.35" fill="url(#gc)"/>
<circle cx="174.57" cy="310.50" r="2.35" fill="url(#gc)"/>
<circle cx="177.33" cy="311.39" r="2.35" fill="url(#gc)"/>
<circle cx="180.04" cy="312.42" r="2.35" fill="url(#gc)"/>
<circle cx="182.73" cy="313.49" r="2.35" fill="url(#gc)"/>
<circle cx="185.41" cy="314.61" r="2.35" fill="url(#gc)"/>
<circle cx="187.94" cy="316.00" r="2.35" fill="url(#gc)"/>
<circle cx="190.25" cy="317.77" r="2.35" fill="url(#gc)"/>
<circle cx="192.50" cy="319.59" r="2.35" fill="url(#gc)"/>
<circle cx="194.79" cy="321.37" r="2.35" fill="url(#gc)"/>
<circle cx="197.25" cy="322.90" r="2.35" fill="url(#gc)"/>
<circle cx="199.89" cy="324.08" r="2.35" fill="url(#gc)"/>
<circle cx="202.71" cy="324.77" r="2.35" fill="url(#gc)"/>
<circle cx="205.59" cy="324.78" r="2.35" fill="url(#gc)"/>
<circle cx="208.29" cy="323.77" r="2.35" fill="url(#gc)"/>
<circle cx="210.62" cy="322.05" r="2.35" fill="url(#gc)"/>
<circle cx="212.75" cy="320.08" r="2.35" fill="url(#gc)"/>
<circle cx="214.75" cy="317.98" r="2.35" fill="url(#gc)"/>
<circle cx="216.64" cy="315.78" r="2.35" fill="url(#gc)"/>
<circle cx="218.37" cy="313.46" r="2.35" fill="url(#gc)"/>
<circle cx="219.84" cy="310.96" r="2.35" fill="url(#gc)"/>
<circle cx="223.40" cy="304.30" r="2.35" fill="url(#gc)"/>
<circle cx="226.60" cy="299.00" r="2.35" fill="url(#gc)"/>
<circle cx="230.30" cy="293.00" r="2.35" fill="url(#gc)"/>
<circle cx="234.60" cy="285.70" r="2.35" fill="url(#gc)"/>
<circle cx="238.60" cy="277.30" r="2.35" fill="url(#gc)"/>
<circle cx="241.70" cy="267.40" r="2.35" fill="url(#gc)"/>
<circle cx="243.90" cy="254.60" r="2.35" fill="url(#gc)"/>
<circle cx="247.00" cy="239.00" r="2.35" fill="url(#gc)"/>
<circle cx="120.30" cy="341.20" r="2.35" fill="url(#gr)"/>
<circle cx="121.01" cy="339.77" r="2.35" fill="url(#gr)"/>
<circle cx="121.81" cy="338.38" r="2.35" fill="url(#gr)"/>
<circle cx="122.76" cy="337.09" r="2.35" fill="url(#gr)"/>
<circle cx="123.85" cy="335.93" r="2.35" fill="url(#gr)"/>
<circle cx="125.15" cy="334.99" r="2.35" fill="url(#gr)"/>
<circle cx="126.55" cy="334.22" r="2.35" fill="url(#gr)"/>
<circle cx="128.01" cy="333.57" r="2.35" fill="url(#gr)"/>
<circle cx="129.56" cy="333.20" r="2.35" fill="url(#gr)"/>
<circle cx="131.15" cy="333.32" r="2.35" fill="url(#gr)"/>
<circle cx="132.71" cy="333.68" r="2.35" fill="url(#gr)"/>
<circle cx="134.22" cy="334.19" r="2.35" fill="url(#gr)"/>
<circle cx="135.69" cy="334.84" r="2.35" fill="url(#gr)"/>
<circle cx="137.11" cy="335.56" r="2.35" fill="url(#gr)"/>
<circle cx="138.50" cy="336.35" r="2.35" fill="url(#gr)"/>
<circle cx="140.00" cy="336.89" r="2.35" fill="url(#gr)"/>
<circle cx="141.31" cy="336.14" r="2.35" fill="url(#gr)"/>
<circle cx="142.12" cy="334.76" r="2.35" fill="url(#gr)"/>
<circle cx="142.82" cy="333.32" r="2.35" fill="url(#gr)"/>
<circle cx="143.42" cy="331.84" r="2.35" fill="url(#gr)"/>
<circle cx="144.06" cy="330.37" r="2.35" fill="url(#gr)"/>
<circle cx="144.84" cy="328.97" r="2.35" fill="url(#gr)"/>
<circle cx="145.57" cy="327.55" r="2.35" fill="url(#gr)"/>
<circle cx="146.18" cy="326.07" r="2.35" fill="url(#gr)"/>
<circle cx="146.77" cy="324.58" r="2.35" fill="url(#gr)"/>
<circle cx="147.44" cy="323.13" r="2.35" fill="url(#gr)"/>
<circle cx="148.22" cy="321.73" r="2.35" fill="url(#gr)"/>
<circle cx="149.06" cy="320.37" r="2.35" fill="url(#gr)"/>
<circle cx="149.93" cy="319.03" r="2.35" fill="url(#gr)"/>
<circle cx="152.70" cy="313.40" r="2.35" fill="url(#gr)"/>
<circle cx="155.20" cy="307.80" r="2.35" fill="url(#gr)"/>
<circle cx="157.90" cy="301.40" r="2.35" fill="url(#gr)"/>
<circle cx="160.60" cy="293.70" r="2.35" fill="url(#gr)"/>
<circle cx="163.40" cy="284.40" r="2.35" fill="url(#gr)"/>
<circle cx="166.40" cy="273.10" r="2.35" fill="url(#gr)"/>
<circle cx="168.80" cy="259.30" r="2.35" fill="url(#gr)"/>
<circle cx="170.60" cy="243.20" r="2.35" fill="url(#gr)"/>
</g>
<line x1="121.20" y1="349.00" x2="121.20" y2="346.00" stroke="#333" stroke-width="1" />
<line x1="154.00" y1="349.00" x2="154.00" y2="346.00" stroke="#333" stroke-width="1" />
<line x1="186.80" y1="349.00" x2="186.80" y2="346.00" stroke="#333" stroke-width="1" />
<line x1="219.60" y1="349.00" x2="219.60" y2="346.00" stroke="#333" stroke-width="1" />
<line x1="252.40" y1="349.00" x2="252.40" y2="346.00" stroke="#333" stroke-width="1" />
<line x1="137.60" y1="349.00" x2="137.60" y2="347.50" stroke="#333" stroke-width="1" />
<line x1="170.40" y1="349.00" x2="170.40" y2="347.50" stroke="#333" stroke-width="1" />
<line x1="203.20" y1="349.00" x2="203.20" y2="347.50" stroke="#333" stroke-width="1" />
<line x1="236.00" y1="349.00" x2="236.00" y2="347.50" stroke="#333" stroke-width="1" />
<line x1="105.00" y1="341.20" x2="108.00" y2="341.20" stroke="#333" stroke-width="1" />
<line x1="105.00" y1="303.50" x2="108.00" y2="303.50" stroke="#333" stroke-width="1" />
<line x1="105.00" y1="265.80" x2="108.00" y2="265.80" stroke="#333" stroke-width="1" />
<line x1="105.00" y1="228.10" x2="108.00" y2="228.10" stroke="#333" stroke-width="1" />
<line x1="105.00" y1="322.35" x2="106.50" y2="322.35" stroke="#333" stroke-width="1" />
<line x1="105.00" y1="284.65" x2="106.50" y2="284.65" stroke="#333" stroke-width="1" />
<line x1="105.00" y1="246.95" x2="106.50" y2="246.95" stroke="#333" stroke-width="1" />
<text x="121.20" y="359.30" font-size="9" text-anchor="middle" fill="#111" font-weight="bold" >2</text>
<text x="154.00" y="359.30" font-size="9" text-anchor="middle" fill="#111" font-weight="bold" >3</text>
<text x="186.80" y="359.30" font-size="9" text-anchor="middle" fill="#111" font-weight="bold" >4</text>
<text x="219.60" y="359.30" font-size="9" text-anchor="middle" fill="#111" font-weight="bold" >5</text>
<text x="252.40" y="359.30" font-size="9" text-anchor="middle" fill="#111" font-weight="bold" >6</text>
<text x="101.80" y="344.40" font-size="9" text-anchor="end" fill="#111" font-weight="bold" >0</text>
<text x="101.80" y="306.70" font-size="9" text-anchor="end" fill="#111" font-weight="bold" >1</text>
<text x="101.80" y="269.00" font-size="9" text-anchor="end" fill="#111" font-weight="bold" >2</text>
<text x="101.80" y="231.30" font-size="9" text-anchor="end" fill="#111" font-weight="bold" >3</text>
<text x="178.30" y="369.60" font-size="12" text-anchor="middle" fill="#111" font-weight="bold" >Z'/ohm</text>
<text x="94.00" y="291.00" font-size="12" text-anchor="middle" fill="#111" font-weight="bold" transform="rotate(-90 94.00 291.00)" >-Z''/ohm</text>
<line x1="176.10" y1="246.20" x2="195.50" y2="246.20" stroke="#3a3a3a" stroke-width="1.2" />
<circle cx="185.90" cy="246.20" r="2.4" fill="url(#gc)"/>
<line x1="176.10" y1="259.40" x2="195.50" y2="259.40" stroke="#ff2020" stroke-width="1.2" />
<circle cx="185.90" cy="259.40" r="2.4" fill="url(#gr)"/>
<text x="197.40" y="249.30" font-size="10" text-anchor="start" fill="#111" font-weight="bold" >MPC-c</text>
<text x="197.40" y="262.70" font-size="10" text-anchor="start" fill="#111" font-weight="bold" >MPC</text>
<clipPath id="cd"><rect x="309.9" y="222.5" width="207.10000000000002" height="166.0"/></clipPath><g clip-path="url(#cd)">
<polyline points="310.30,292.00 316.04,299.05 321.77,306.70 327.51,315.66 333.24,324.33 338.98,331.97 344.72,340.22 350.45,345.95 356.19,351.52 361.92,355.73 367.66,358.83 373.40,361.64 379.13,363.61 384.87,364.56 390.60,365.52 396.34,366.47 402.08,367.21 407.81,367.78 413.55,368.20 419.28,368.49 425.02,369.00 430.76,369.51 436.49,370.01 442.23,370.52 447.96,371.00 453.70,371.48 459.44,371.95 465.17,372.26 470.91,372.55 476.64,372.83 482.38,373.03 488.12,373.11 493.85,373.19 499.59,373.26 505.32,373.34 511.06,373.42 516.80,373.50" fill="none" stroke="#000" stroke-width="1.2" stroke-linejoin="round" stroke-linecap="round"/>
<circle cx="310.30" cy="292.00" r="2.85" fill="url(#gk)"/>
<circle cx="316.04" cy="299.05" r="2.85" fill="url(#gk)"/>
<circle cx="321.77" cy="306.70" r="2.85" fill="url(#gk)"/>
<circle cx="327.51" cy="315.66" r="2.85" fill="url(#gk)"/>
<circle cx="333.24" cy="324.33" r="2.85" fill="url(#gk)"/>
<circle cx="338.98" cy="331.97" r="2.85" fill="url(#gk)"/>
<circle cx="344.72" cy="340.22" r="2.85" fill="url(#gk)"/>
<circle cx="350.45" cy="345.95" r="2.85" fill="url(#gk)"/>
<circle cx="356.19" cy="351.52" r="2.85" fill="url(#gk)"/>
<circle cx="361.92" cy="355.73" r="2.85" fill="url(#gk)"/>
<circle cx="367.66" cy="358.83" r="2.85" fill="url(#gk)"/>
<circle cx="373.40" cy="361.64" r="2.85" fill="url(#gk)"/>
<circle cx="379.13" cy="363.61" r="2.85" fill="url(#gk)"/>
<circle cx="384.87" cy="364.56" r="2.85" fill="url(#gk)"/>
<circle cx="390.60" cy="365.52" r="2.85" fill="url(#gk)"/>
<circle cx="396.34" cy="366.47" r="2.85" fill="url(#gk)"/>
<circle cx="402.08" cy="367.21" r="2.85" fill="url(#gk)"/>
<circle cx="407.81" cy="367.78" r="2.85" fill="url(#gk)"/>
<circle cx="413.55" cy="368.20" r="2.85" fill="url(#gk)"/>
<circle cx="419.28" cy="368.49" r="2.85" fill="url(#gk)"/>
<circle cx="425.02" cy="369.00" r="2.85" fill="url(#gk)"/>
<circle cx="430.76" cy="369.51" r="2.85" fill="url(#gk)"/>
<circle cx="436.49" cy="370.01" r="2.85" fill="url(#gk)"/>
<circle cx="442.23" cy="370.52" r="2.85" fill="url(#gk)"/>
<circle cx="447.96" cy="371.00" r="2.85" fill="url(#gk)"/>
<circle cx="453.70" cy="371.48" r="2.85" fill="url(#gk)"/>
<circle cx="459.44" cy="371.95" r="2.85" fill="url(#gk)"/>
<circle cx="465.17" cy="372.26" r="2.85" fill="url(#gk)"/>
<circle cx="470.91" cy="372.55" r="2.85" fill="url(#gk)"/>
<circle cx="476.64" cy="372.83" r="2.85" fill="url(#gk)"/>
<circle cx="482.38" cy="373.03" r="2.85" fill="url(#gk)"/>
<circle cx="488.12" cy="373.11" r="2.85" fill="url(#gk)"/>
<circle cx="493.85" cy="373.19" r="2.85" fill="url(#gk)"/>
<circle cx="499.59" cy="373.26" r="2.85" fill="url(#gk)"/>
<circle cx="505.32" cy="373.34" r="2.85" fill="url(#gk)"/>
<circle cx="511.06" cy="373.42" r="2.85" fill="url(#gk)"/>
<circle cx="516.80" cy="373.50" r="2.85" fill="url(#gk)"/>
<polyline points="310.30,254.50 316.04,259.54 321.77,265.48 327.51,272.74 333.24,279.85 338.98,287.97 344.72,298.69 350.45,308.28 356.19,318.03 361.92,326.66 367.66,335.33 373.40,342.43 379.13,348.52 384.87,353.08 390.60,356.78 396.34,359.43 402.08,362.02 407.81,363.45 413.55,365.01 419.28,366.45 425.02,367.50 430.76,368.52 436.49,368.96 442.23,369.40 447.96,369.84 453.70,370.24 459.44,370.61 465.17,370.99 470.91,371.33 476.64,371.53 482.38,371.73 488.12,371.93 493.85,372.00 499.59,372.00 505.32,372.00 511.06,372.00 516.80,372.00" fill="none" stroke="#ff0000" stroke-width="1.2" stroke-linejoin="round" stroke-linecap="round"/>
<circle cx="310.30" cy="254.50" r="2.85" fill="url(#gr)"/>
<circle cx="316.04" cy="259.54" r="2.85" fill="url(#gr)"/>
<circle cx="321.77" cy="265.48" r="2.85" fill="url(#gr)"/>
<circle cx="327.51" cy="272.74" r="2.85" fill="url(#gr)"/>
<circle cx="333.24" cy="279.85" r="2.85" fill="url(#gr)"/>
<circle cx="338.98" cy="287.97" r="2.85" fill="url(#gr)"/>
<circle cx="344.72" cy="298.69" r="2.85" fill="url(#gr)"/>
<circle cx="350.45" cy="308.28" r="2.85" fill="url(#gr)"/>
<circle cx="356.19" cy="318.03" r="2.85" fill="url(#gr)"/>
<circle cx="361.92" cy="326.66" r="2.85" fill="url(#gr)"/>
<circle cx="367.66" cy="335.33" r="2.85" fill="url(#gr)"/>
<circle cx="373.40" cy="342.43" r="2.85" fill="url(#gr)"/>
<circle cx="379.13" cy="348.52" r="2.85" fill="url(#gr)"/>
<circle cx="384.87" cy="353.08" r="2.85" fill="url(#gr)"/>
<circle cx="390.60" cy="356.78" r="2.85" fill="url(#gr)"/>
<circle cx="396.34" cy="359.43" r="2.85" fill="url(#gr)"/>
<circle cx="402.08" cy="362.02" r="2.85" fill="url(#gr)"/>
<circle cx="407.81" cy="363.45" r="2.85" fill="url(#gr)"/>
<circle cx="413.55" cy="365.01" r="2.85" fill="url(#gr)"/>
<circle cx="419.28" cy="366.45" r="2.85" fill="url(#gr)"/>
<circle cx="425.02" cy="367.50" r="2.85" fill="url(#gr)"/>
<circle cx="430.76" cy="368.52" r="2.85" fill="url(#gr)"/>
<circle cx="436.49" cy="368.96" r="2.85" fill="url(#gr)"/>
<circle cx="442.23" cy="369.40" r="2.85" fill="url(#gr)"/>
<circle cx="447.96" cy="369.84" r="2.85" fill="url(#gr)"/>
<circle cx="453.70" cy="370.24" r="2.85" fill="url(#gr)"/>
<circle cx="459.44" cy="370.61" r="2.85" fill="url(#gr)"/>
<circle cx="465.17" cy="370.99" r="2.85" fill="url(#gr)"/>
<circle cx="470.91" cy="371.33" r="2.85" fill="url(#gr)"/>
<circle cx="476.64" cy="371.53" r="2.85" fill="url(#gr)"/>
<circle cx="482.38" cy="371.73" r="2.85" fill="url(#gr)"/>
<circle cx="488.12" cy="371.93" r="2.85" fill="url(#gr)"/>
<circle cx="493.85" cy="372.00" r="2.85" fill="url(#gr)"/>
<circle cx="499.59" cy="372.00" r="2.85" fill="url(#gr)"/>
<circle cx="505.32" cy="372.00" r="2.85" fill="url(#gr)"/>
<circle cx="511.06" cy="372.00" r="2.85" fill="url(#gr)"/>
<circle cx="516.80" cy="372.00" r="2.85" fill="url(#gr)"/>
<polyline points="310.30,274.50 316.04,267.57 321.77,265.37 327.51,264.63 333.24,266.27 338.98,272.48 344.72,278.45 350.45,286.24 356.19,295.53 361.92,304.19 367.66,313.49 373.40,322.04 379.13,329.68 384.87,335.87 390.60,341.59 396.34,346.37 402.08,351.55 407.81,355.37 413.55,358.52 419.28,361.39 425.02,364.01 430.76,366.06 436.49,367.50 442.23,369.03 447.96,369.83 453.70,370.62 459.44,371.42 465.17,371.89 470.91,372.32 476.64,372.75 482.38,373.03 488.12,373.11 493.85,373.19 499.59,373.26 505.32,373.34 511.06,373.42 516.80,373.50" fill="none" stroke="#000" stroke-width="1.2" stroke-linejoin="round" stroke-linecap="round"/>
<circle cx="310.30" cy="274.50" r="2.85" fill="url(#gk)"/>
<circle cx="316.04" cy="267.57" r="2.85" fill="url(#gk)"/>
<circle cx="321.77" cy="265.37" r="2.85" fill="url(#gk)"/>
<circle cx="327.51" cy="264.63" r="2.85" fill="url(#gk)"/>
<circle cx="333.24" cy="266.27" r="2.85" fill="url(#gk)"/>
<circle cx="338.98" cy="272.48" r="2.85" fill="url(#gk)"/>
<circle cx="344.72" cy="278.45" r="2.85" fill="url(#gk)"/>
<circle cx="350.45" cy="286.24" r="2.85" fill="url(#gk)"/>
<circle cx="356.19" cy="295.53" r="2.85" fill="url(#gk)"/>
<circle cx="361.92" cy="304.19" r="2.85" fill="url(#gk)"/>
<circle cx="367.66" cy="313.49" r="2.85" fill="url(#gk)"/>
<circle cx="373.40" cy="322.04" r="2.85" fill="url(#gk)"/>
<circle cx="379.13" cy="329.68" r="2.85" fill="url(#gk)"/>
<circle cx="384.87" cy="335.87" r="2.85" fill="url(#gk)"/>
<circle cx="390.60" cy="341.59" r="2.85" fill="url(#gk)"/>
<circle cx="396.34" cy="346.37" r="2.85" fill="url(#gk)"/>
<circle cx="402.08" cy="351.55" r="2.85" fill="url(#gk)"/>
<circle cx="407.81" cy="355.37" r="2.85" fill="url(#gk)"/>
<circle cx="413.55" cy="358.52" r="2.85" fill="url(#gk)"/>
<circle cx="419.28" cy="361.39" r="2.85" fill="url(#gk)"/>
<circle cx="425.02" cy="364.01" r="2.85" fill="url(#gk)"/>
<circle cx="430.76" cy="366.06" r="2.85" fill="url(#gk)"/>
<circle cx="436.49" cy="367.50" r="2.85" fill="url(#gk)"/>
<circle cx="442.23" cy="369.03" r="2.85" fill="url(#gk)"/>
<circle cx="447.96" cy="369.83" r="2.85" fill="url(#gk)"/>
<circle cx="453.70" cy="370.62" r="2.85" fill="url(#gk)"/>
<circle cx="459.44" cy="371.42" r="2.85" fill="url(#gk)"/>
<circle cx="465.17" cy="371.89" r="2.85" fill="url(#gk)"/>
<circle cx="470.91" cy="372.32" r="2.85" fill="url(#gk)"/>
<circle cx="476.64" cy="372.75" r="2.85" fill="url(#gk)"/>
<circle cx="482.38" cy="373.03" r="2.85" fill="url(#gk)"/>
<circle cx="488.12" cy="373.11" r="2.85" fill="url(#gk)"/>
<circle cx="493.85" cy="373.19" r="2.85" fill="url(#gk)"/>
<circle cx="499.59" cy="373.26" r="2.85" fill="url(#gk)"/>
<circle cx="505.32" cy="373.34" r="2.85" fill="url(#gk)"/>
<circle cx="511.06" cy="373.42" r="2.85" fill="url(#gk)"/>
<circle cx="516.80" cy="373.50" r="2.85" fill="url(#gk)"/>
<polyline points="310.30,304.00 316.04,293.27 321.77,283.84 327.51,275.19 333.24,266.44 338.98,259.76 344.72,255.70 350.45,253.58 356.19,254.88 361.92,258.24 367.66,264.23 373.40,272.65 379.13,282.00 384.87,291.05 390.60,299.69 396.34,310.06 402.08,319.22 407.81,326.40 413.55,333.64 419.28,340.31 425.02,346.43 430.76,351.17 436.49,354.99 442.23,358.61 447.96,361.48 453.70,363.88 459.44,365.98 465.17,367.83 470.91,368.78 476.64,369.18 482.38,369.49 488.12,369.42 493.85,369.34 499.59,369.25 505.32,369.17 511.06,369.09 516.80,369.00" fill="none" stroke="#ff0000" stroke-width="1.2" stroke-linejoin="round" stroke-linecap="round"/>
<circle cx="310.30" cy="304.00" r="2.85" fill="url(#gr)"/>
<circle cx="316.04" cy="293.27" r="2.85" fill="url(#gr)"/>
<circle cx="321.77" cy="283.84" r="2.85" fill="url(#gr)"/>
<circle cx="327.51" cy="275.19" r="2.85" fill="url(#gr)"/>
<circle cx="333.24" cy="266.44" r="2.85" fill="url(#gr)"/>
<circle cx="338.98" cy="259.76" r="2.85" fill="url(#gr)"/>
<circle cx="344.72" cy="255.70" r="2.85" fill="url(#gr)"/>
<circle cx="350.45" cy="253.58" r="2.85" fill="url(#gr)"/>
<circle cx="356.19" cy="254.88" r="2.85" fill="url(#gr)"/>
<circle cx="361.92" cy="258.24" r="2.85" fill="url(#gr)"/>
<circle cx="367.66" cy="264.23" r="2.85" fill="url(#gr)"/>
<circle cx="373.40" cy="272.65" r="2.85" fill="url(#gr)"/>
<circle cx="379.13" cy="282.00" r="2.85" fill="url(#gr)"/>
<circle cx="384.87" cy="291.05" r="2.85" fill="url(#gr)"/>
<circle cx="390.60" cy="299.69" r="2.85" fill="url(#gr)"/>
<circle cx="396.34" cy="310.06" r="2.85" fill="url(#gr)"/>
<circle cx="402.08" cy="319.22" r="2.85" fill="url(#gr)"/>
<circle cx="407.81" cy="326.40" r="2.85" fill="url(#gr)"/>
<circle cx="413.55" cy="333.64" r="2.85" fill="url(#gr)"/>
<circle cx="419.28" cy="340.31" r="2.85" fill="url(#gr)"/>
<circle cx="425.02" cy="346.43" r="2.85" fill="url(#gr)"/>
<circle cx="430.76" cy="351.17" r="2.85" fill="url(#gr)"/>
<circle cx="436.49" cy="354.99" r="2.85" fill="url(#gr)"/>
<circle cx="442.23" cy="358.61" r="2.85" fill="url(#gr)"/>
<circle cx="447.96" cy="361.48" r="2.85" fill="url(#gr)"/>
<circle cx="453.70" cy="363.88" r="2.85" fill="url(#gr)"/>
<circle cx="459.44" cy="365.98" r="2.85" fill="url(#gr)"/>
<circle cx="465.17" cy="367.83" r="2.85" fill="url(#gr)"/>
<circle cx="470.91" cy="368.78" r="2.85" fill="url(#gr)"/>
<circle cx="476.64" cy="369.18" r="2.85" fill="url(#gr)"/>
<circle cx="482.38" cy="369.49" r="2.85" fill="url(#gr)"/>
<circle cx="488.12" cy="369.42" r="2.85" fill="url(#gr)"/>
<circle cx="493.85" cy="369.34" r="2.85" fill="url(#gr)"/>
<circle cx="499.59" cy="369.25" r="2.85" fill="url(#gr)"/>
<circle cx="505.32" cy="369.17" r="2.85" fill="url(#gr)"/>
<circle cx="511.06" cy="369.09" r="2.85" fill="url(#gr)"/>
<circle cx="516.80" cy="369.00" r="2.85" fill="url(#gr)"/>
</g>
<rect x="309.90" y="222.50" width="207.10" height="166.00" fill="none" stroke="#000" stroke-width="1.35"/>
<line x1="310.30" y1="388.50" x2="310.30" y2="385.20" stroke="#000" stroke-width="1.1" />
<line x1="379.30" y1="388.50" x2="379.30" y2="385.20" stroke="#000" stroke-width="1.1" />
<line x1="448.30" y1="388.50" x2="448.30" y2="385.20" stroke="#000" stroke-width="1.1" />
<line x1="517.30" y1="388.50" x2="517.30" y2="385.20" stroke="#000" stroke-width="1.1" />
<line x1="331.07" y1="388.50" x2="331.07" y2="386.80" stroke="#000" stroke-width="1.1" />
<line x1="343.22" y1="388.50" x2="343.22" y2="386.80" stroke="#000" stroke-width="1.1" />
<line x1="351.84" y1="388.50" x2="351.84" y2="386.80" stroke="#000" stroke-width="1.1" />
<line x1="358.53" y1="388.50" x2="358.53" y2="386.80" stroke="#000" stroke-width="1.1" />
<line x1="363.99" y1="388.50" x2="363.99" y2="386.80" stroke="#000" stroke-width="1.1" />
<line x1="368.61" y1="388.50" x2="368.61" y2="386.80" stroke="#000" stroke-width="1.1" />
<line x1="372.61" y1="388.50" x2="372.61" y2="386.80" stroke="#000" stroke-width="1.1" />
<line x1="376.14" y1="388.50" x2="376.14" y2="386.80" stroke="#000" stroke-width="1.1" />
<line x1="400.07" y1="388.50" x2="400.07" y2="386.80" stroke="#000" stroke-width="1.1" />
<line x1="412.22" y1="388.50" x2="412.22" y2="386.80" stroke="#000" stroke-width="1.1" />
<line x1="420.84" y1="388.50" x2="420.84" y2="386.80" stroke="#000" stroke-width="1.1" />
<line x1="427.53" y1="388.50" x2="427.53" y2="386.80" stroke="#000" stroke-width="1.1" />
<line x1="432.99" y1="388.50" x2="432.99" y2="386.80" stroke="#000" stroke-width="1.1" />
<line x1="437.61" y1="388.50" x2="437.61" y2="386.80" stroke="#000" stroke-width="1.1" />
<line x1="441.61" y1="388.50" x2="441.61" y2="386.80" stroke="#000" stroke-width="1.1" />
<line x1="445.14" y1="388.50" x2="445.14" y2="386.80" stroke="#000" stroke-width="1.1" />
<line x1="469.07" y1="388.50" x2="469.07" y2="386.80" stroke="#000" stroke-width="1.1" />
<line x1="481.22" y1="388.50" x2="481.22" y2="386.80" stroke="#000" stroke-width="1.1" />
<line x1="489.84" y1="388.50" x2="489.84" y2="386.80" stroke="#000" stroke-width="1.1" />
<line x1="496.53" y1="388.50" x2="496.53" y2="386.80" stroke="#000" stroke-width="1.1" />
<line x1="501.99" y1="388.50" x2="501.99" y2="386.80" stroke="#000" stroke-width="1.1" />
<line x1="506.61" y1="388.50" x2="506.61" y2="386.80" stroke="#000" stroke-width="1.1" />
<line x1="510.61" y1="388.50" x2="510.61" y2="386.80" stroke="#000" stroke-width="1.1" />
<line x1="514.14" y1="388.50" x2="514.14" y2="386.80" stroke="#000" stroke-width="1.1" />
<line x1="309.90" y1="369.20" x2="313.20" y2="369.20" stroke="#000" stroke-width="1.1" />
<line x1="309.90" y1="330.08" x2="313.20" y2="330.08" stroke="#000" stroke-width="1.1" />
<line x1="309.90" y1="290.96" x2="313.20" y2="290.96" stroke="#000" stroke-width="1.1" />
<line x1="309.90" y1="251.84" x2="313.20" y2="251.84" stroke="#000" stroke-width="1.1" />
<line x1="309.90" y1="349.64" x2="311.60" y2="349.64" stroke="#000" stroke-width="1.1" />
<line x1="309.90" y1="310.52" x2="311.60" y2="310.52" stroke="#000" stroke-width="1.1" />
<line x1="309.90" y1="271.40" x2="311.60" y2="271.40" stroke="#000" stroke-width="1.1" />
<line x1="309.90" y1="232.28" x2="311.60" y2="232.28" stroke="#000" stroke-width="1.1" />
<line x1="517.00" y1="376.60" x2="513.70" y2="376.60" stroke="#000" stroke-width="1.1" />
<line x1="517.00" y1="329.20" x2="513.70" y2="329.20" stroke="#000" stroke-width="1.1" />
<line x1="517.00" y1="281.80" x2="513.70" y2="281.80" stroke="#000" stroke-width="1.1" />
<line x1="517.00" y1="234.40" x2="513.70" y2="234.40" stroke="#000" stroke-width="1.1" />
<line x1="517.00" y1="352.90" x2="515.30" y2="352.90" stroke="#000" stroke-width="1.1" />
<line x1="517.00" y1="305.50" x2="515.30" y2="305.50" stroke="#000" stroke-width="1.1" />
<line x1="517.00" y1="258.10" x2="515.30" y2="258.10" stroke="#000" stroke-width="1.1" />
<text x="310.30" y="400.40" font-size="10.7" text-anchor="middle" fill="#111" font-weight="bold" >0.1</text>
<text x="379.30" y="400.40" font-size="10.7" text-anchor="middle" fill="#111" font-weight="bold" >1</text>
<text x="448.30" y="400.40" font-size="10.7" text-anchor="middle" fill="#111" font-weight="bold" >10</text>
<text x="517.30" y="400.40" font-size="10.7" text-anchor="middle" fill="#111" font-weight="bold" >100</text>
<text x="306.40" y="372.70" font-size="10.7" text-anchor="end" fill="#111" font-weight="bold" >0</text>
<text x="306.40" y="333.58" font-size="10.7" text-anchor="end" fill="#111" font-weight="bold" >40</text>
<text x="306.40" y="294.46" font-size="10.7" text-anchor="end" fill="#111" font-weight="bold" >80</text>
<text x="306.40" y="255.34" font-size="10.7" text-anchor="end" fill="#111" font-weight="bold" >120</text>
<text x="521.00" y="380.10" font-size="10.7" text-anchor="start" fill="#111" font-weight="bold" >0</text>
<text x="521.00" y="332.70" font-size="10.7" text-anchor="start" fill="#111" font-weight="bold" >20</text>
<text x="521.00" y="285.30" font-size="10.7" text-anchor="start" fill="#111" font-weight="bold" >40</text>
<text x="521.00" y="237.90" font-size="10.7" text-anchor="start" fill="#111" font-weight="bold" >60</text>
<text x="413.00" y="415.00" font-size="14" text-anchor="middle" fill="#111" font-weight="bold" >Frequency (Hz)</text>
<text x="290.80" y="305.30" font-size="14" text-anchor="middle" fill="#111" font-weight="bold" transform="rotate(-90 290.80 305.30)" >C' (F g<tspan font-size="8.5" dy="-6.4">-1</tspan><tspan dy="6.4" dx="1">)</tspan></text>
<text x="536.20" y="306.50" font-size="14" text-anchor="middle" fill="#111" font-weight="bold" transform="rotate(90 536.20 306.50)" >C'' (F g<tspan font-size="8.5" dy="-6.4">-1</tspan><tspan dy="6.4" dx="1">)</tspan></text>
<text x="266.80" y="230.50" font-size="25" text-anchor="start" fill="#111" font-weight="bold" >D</text>
<line x1="436.70" y1="242.80" x2="457.00" y2="242.80" stroke="#3a3a3a" stroke-width="1.2" />
<circle cx="446.60" cy="242.80" r="2.4" fill="url(#gk)"/>
<line x1="436.70" y1="256.60" x2="457.00" y2="256.60" stroke="#ff2020" stroke-width="1.2" />
<circle cx="446.60" cy="256.60" r="2.4" fill="url(#gr)"/>
<text x="457.80" y="246.60" font-size="10" text-anchor="start" fill="#111" font-weight="bold" >MPC-c</text>
<text x="457.80" y="260.40" font-size="10" text-anchor="start" fill="#111" font-weight="bold" >MPC</text>
<text x="410.30" y="297.60" font-size="11" text-anchor="start" fill="#111" font-weight="bold" >C' -Frequency(<tspan fill='#0a0aff'>A<tspan font-size='7' dy='2.5'>1</tspan><tspan dy='-2.5'> A</tspan><tspan font-size='7' dy='2.5'>2</tspan></tspan><tspan dy='-2.5'>)</tspan></text>
<text x="410.30" y="313.00" font-size="11" text-anchor="start" fill="#111" font-weight="bold" >C''-Frequency(<tspan fill='#00c888'>B<tspan font-size='7' dy='2.5'>1</tspan><tspan dy='-2.5'> B</tspan><tspan font-size='7' dy='2.5'>2</tspan></tspan><tspan dy='-2.5'>)</tspan></text>
<text x="311.50" y="248.60" font-size="10.5" text-anchor="start" fill="#0a0aff" font-weight="bold" >A<tspan font-size='8' dy='2.8'>2</tspan></text>
<text x="311.50" y="313.70" font-size="10.5" text-anchor="start" fill="#0a0aff" font-weight="bold" >A<tspan font-size='8' dy='2.8'>1</tspan></text>
<text x="322.40" y="259.80" font-size="10.5" text-anchor="start" fill="#00c888" font-weight="bold" >B<tspan font-size='8' dy='2.8'>1</tspan></text>
<text x="351.40" y="249.00" font-size="10.5" text-anchor="start" fill="#00c888" font-weight="bold" >B<tspan font-size='8' dy='2.8'>2</tspan></text>
<polyline points="70.72,463.99 72.44,469.50 75.88,475.00 79.32,478.98 86.20,484.49 103.40,493.70 137.80,505.31 172.20,513.60 206.60,523.48 241.00,531.70" fill="none" stroke="#3a3a3a" stroke-width="1.3" stroke-linejoin="round" stroke-linecap="round"/>
<polyline points="70.72,454.97 72.44,457.49 75.88,461.47 79.32,463.99 86.20,468.50 103.40,476.53 137.80,488.53 172.20,499.01 206.60,510.42 241.00,519.70" fill="none" stroke="#ff2020" stroke-width="1.3" stroke-linejoin="round" stroke-linecap="round"/>
<circle cx="70.72" cy="463.99" r="2.7" fill="url(#gc)"/>
<circle cx="72.44" cy="469.50" r="2.7" fill="url(#gc)"/>
<circle cx="75.88" cy="475.00" r="2.7" fill="url(#gc)"/>
<circle cx="79.32" cy="478.98" r="2.7" fill="url(#gc)"/>
<circle cx="86.20" cy="484.49" r="2.7" fill="url(#gc)"/>
<circle cx="103.40" cy="493.70" r="2.7" fill="url(#gc)"/>
<circle cx="137.80" cy="505.31" r="2.7" fill="url(#gc)"/>
<circle cx="172.20" cy="513.60" r="2.7" fill="url(#gc)"/>
<circle cx="206.60" cy="523.48" r="2.7" fill="url(#gc)"/>
<circle cx="241.00" cy="531.70" r="2.7" fill="url(#gc)"/>
<circle cx="70.72" cy="454.97" r="2.7" fill="url(#gr)"/>
<circle cx="72.44" cy="457.49" r="2.7" fill="url(#gr)"/>
<circle cx="75.88" cy="461.47" r="2.7" fill="url(#gr)"/>
<circle cx="79.32" cy="463.99" r="2.7" fill="url(#gr)"/>
<circle cx="86.20" cy="468.50" r="2.7" fill="url(#gr)"/>
<circle cx="103.40" cy="476.53" r="2.7" fill="url(#gr)"/>
<circle cx="137.80" cy="488.53" r="2.7" fill="url(#gr)"/>
<circle cx="172.20" cy="499.01" r="2.7" fill="url(#gr)"/>
<circle cx="206.60" cy="510.42" r="2.7" fill="url(#gr)"/>
<circle cx="241.00" cy="519.70" r="2.7" fill="url(#gr)"/>
<rect x="51.50" y="437.00" width="207.00" height="165.80" fill="none" stroke="#000" stroke-width="1.35"/>
<line x1="69.00" y1="602.80" x2="69.00" y2="599.50" stroke="#000" stroke-width="1.1" />
<line x1="103.40" y1="602.80" x2="103.40" y2="599.50" stroke="#000" stroke-width="1.1" />
<line x1="137.80" y1="602.80" x2="137.80" y2="599.50" stroke="#000" stroke-width="1.1" />
<line x1="172.20" y1="602.80" x2="172.20" y2="599.50" stroke="#000" stroke-width="1.1" />
<line x1="206.60" y1="602.80" x2="206.60" y2="599.50" stroke="#000" stroke-width="1.1" />
<line x1="241.00" y1="602.80" x2="241.00" y2="599.50" stroke="#000" stroke-width="1.1" />
<line x1="86.20" y1="602.80" x2="86.20" y2="601.10" stroke="#000" stroke-width="1.1" />
<line x1="120.60" y1="602.80" x2="120.60" y2="601.10" stroke="#000" stroke-width="1.1" />
<line x1="155.00" y1="602.80" x2="155.00" y2="601.10" stroke="#000" stroke-width="1.1" />
<line x1="189.40" y1="602.80" x2="189.40" y2="601.10" stroke="#000" stroke-width="1.1" />
<line x1="223.80" y1="602.80" x2="223.80" y2="601.10" stroke="#000" stroke-width="1.1" />
<line x1="51.50" y1="602.80" x2="54.80" y2="602.80" stroke="#000" stroke-width="1.1" />
<line x1="51.50" y1="569.64" x2="54.80" y2="569.64" stroke="#000" stroke-width="1.1" />
<line x1="51.50" y1="536.48" x2="54.80" y2="536.48" stroke="#000" stroke-width="1.1" />
<line x1="51.50" y1="503.32" x2="54.80" y2="503.32" stroke="#000" stroke-width="1.1" />
<line x1="51.50" y1="470.16" x2="54.80" y2="470.16" stroke="#000" stroke-width="1.1" />
<line x1="51.50" y1="437.00" x2="54.80" y2="437.00" stroke="#000" stroke-width="1.1" />
<line x1="51.50" y1="586.22" x2="53.20" y2="586.22" stroke="#000" stroke-width="1.1" />
<line x1="51.50" y1="553.06" x2="53.20" y2="553.06" stroke="#000" stroke-width="1.1" />
<line x1="51.50" y1="519.90" x2="53.20" y2="519.90" stroke="#000" stroke-width="1.1" />
<line x1="51.50" y1="486.74" x2="53.20" y2="486.74" stroke="#000" stroke-width="1.1" />
<line x1="51.50" y1="453.58" x2="53.20" y2="453.58" stroke="#000" stroke-width="1.1" />
<text x="69.00" y="615.00" font-size="10.7" text-anchor="middle" fill="#111" font-weight="bold" >0</text>
<text x="103.40" y="615.00" font-size="10.7" text-anchor="middle" fill="#111" font-weight="bold" >10</text>
<text x="137.80" y="615.00" font-size="10.7" text-anchor="middle" fill="#111" font-weight="bold" >20</text>
<text x="172.20" y="615.00" font-size="10.7" text-anchor="middle" fill="#111" font-weight="bold" >30</text>
<text x="206.60" y="615.00" font-size="10.7" text-anchor="middle" fill="#111" font-weight="bold" >40</text>
<text x="241.00" y="615.00" font-size="10.7" text-anchor="middle" fill="#111" font-weight="bold" >50</text>
<text x="47.70" y="606.30" font-size="10.7" text-anchor="end" fill="#111" font-weight="bold" >0</text>
<text x="47.70" y="573.14" font-size="10.7" text-anchor="end" fill="#111" font-weight="bold" >50</text>
<text x="47.70" y="539.98" font-size="10.7" text-anchor="end" fill="#111" font-weight="bold" >100</text>
<text x="47.70" y="506.82" font-size="10.7" text-anchor="end" fill="#111" font-weight="bold" >150</text>
<text x="47.70" y="473.66" font-size="10.7" text-anchor="end" fill="#111" font-weight="bold" >200</text>
<text x="47.70" y="440.50" font-size="10.7" text-anchor="end" fill="#111" font-weight="bold" >250</text>
<text x="154.30" y="632.70" font-size="14" text-anchor="middle" fill="#111" font-weight="bold" >Current density (A g<tspan font-size="8.5" dy="-6.4">-1</tspan><tspan dy="6.4" dx="1">)</tspan></text>
<text x="27.90" y="521.00" font-size="14" text-anchor="middle" fill="#111" font-weight="bold" transform="rotate(-90 27.90 521.00)" >Specific capacitance (F g<tspan font-size="8.5" dy="-6.4">-1</tspan><tspan dy="6.4" dx="1">)</tspan></text>
<text x="1.30" y="442.90" font-size="25" text-anchor="start" fill="#111" font-weight="bold" >E</text>
<line x1="177.00" y1="454.90" x2="196.70" y2="454.90" stroke="#3a3a3a" stroke-width="1.2" />
<circle cx="187.20" cy="454.90" r="2.4" fill="url(#gc)"/>
<line x1="177.00" y1="468.50" x2="196.70" y2="468.50" stroke="#ff2020" stroke-width="1.2" />
<circle cx="187.20" cy="468.50" r="2.4" fill="url(#gr)"/>
<text x="198.30" y="458.10" font-size="10" text-anchor="start" fill="#111" font-weight="bold" >MPC-C</text>
<text x="198.30" y="472.00" font-size="10" text-anchor="start" fill="#111" font-weight="bold" >MPC</text>
<clipPath id="cf"><rect x="310" y="436.8" width="206.79999999999995" height="166.49999999999994"/></clipPath><g clip-path="url(#cf)">
<circle cx="310.20" cy="519.70" r="2.75" fill="url(#gr)"/>
<circle cx="312.20" cy="519.70" r="2.75" fill="url(#gr)"/>
<circle cx="314.20" cy="519.70" r="2.75" fill="url(#gr)"/>
<circle cx="316.20" cy="519.70" r="2.75" fill="url(#gr)"/>
<circle cx="318.20" cy="519.70" r="2.75" fill="url(#gr)"/>
<circle cx="320.20" cy="519.70" r="2.75" fill="url(#gr)"/>
<circle cx="322.20" cy="519.70" r="2.75" fill="url(#gr)"/>
<circle cx="324.20" cy="519.70" r="2.75" fill="url(#gr)"/>
<circle cx="326.20" cy="519.70" r="2.75" fill="url(#gr)"/>
<circle cx="328.20" cy="519.70" r="2.75" fill="url(#gr)"/>
<circle cx="330.20" cy="519.70" r="2.75" fill="url(#gr)"/>
<circle cx="332.20" cy="519.70" r="2.75" fill="url(#gr)"/>
<circle cx="334.20" cy="519.70" r="2.75" fill="url(#gr)"/>
<circle cx="336.20" cy="519.70" r="2.75" fill="url(#gr)"/>
<circle cx="338.20" cy="519.70" r="2.75" fill="url(#gr)"/>
<circle cx="340.20" cy="519.70" r="2.75" fill="url(#gr)"/>
<circle cx="342.20" cy="519.70" r="2.75" fill="url(#gr)"/>
<circle cx="344.20" cy="519.70" r="2.75" fill="url(#gr)"/>
<circle cx="346.20" cy="519.70" r="2.75" fill="url(#gr)"/>
<circle cx="348.20" cy="519.70" r="2.75" fill="url(#gr)"/>
<circle cx="350.20" cy="519.70" r="2.75" fill="url(#gr)"/>
<circle cx="352.20" cy="519.70" r="2.75" fill="url(#gr)"/>
<circle cx="354.20" cy="519.70" r="2.75" fill="url(#gr)"/>
<circle cx="356.20" cy="519.70" r="2.75" fill="url(#gr)"/>
<circle cx="358.20" cy="519.70" r="2.75" fill="url(#gr)"/>
<circle cx="360.20" cy="519.70" r="2.75" fill="url(#gr)"/>
<circle cx="362.20" cy="519.70" r="2.75" fill="url(#gr)"/>
<circle cx="364.20" cy="519.70" r="2.75" fill="url(#gr)"/>
<circle cx="366.20" cy="519.70" r="2.75" fill="url(#gr)"/>
<circle cx="368.20" cy="519.70" r="2.75" fill="url(#gr)"/>
<circle cx="370.20" cy="519.70" r="2.75" fill="url(#gr)"/>
<circle cx="372.20" cy="519.70" r="2.75" fill="url(#gr)"/>
<circle cx="374.20" cy="519.70" r="2.75" fill="url(#gr)"/>
<circle cx="376.20" cy="519.70" r="2.75" fill="url(#gr)"/>
<circle cx="378.20" cy="519.70" r="2.75" fill="url(#gr)"/>
<circle cx="380.20" cy="519.70" r="2.75" fill="url(#gr)"/>
<circle cx="382.20" cy="519.70" r="2.75" fill="url(#gr)"/>
<circle cx="384.20" cy="519.70" r="2.75" fill="url(#gr)"/>
<circle cx="386.20" cy="519.70" r="2.75" fill="url(#gr)"/>
<circle cx="388.20" cy="519.70" r="2.75" fill="url(#gr)"/>
<circle cx="390.20" cy="519.70" r="2.75" fill="url(#gr)"/>
<circle cx="392.20" cy="519.70" r="2.75" fill="url(#gr)"/>
<circle cx="394.20" cy="519.70" r="2.75" fill="url(#gr)"/>
<circle cx="396.20" cy="519.70" r="2.75" fill="url(#gr)"/>
<circle cx="398.20" cy="519.70" r="2.75" fill="url(#gr)"/>
<circle cx="400.20" cy="519.70" r="2.75" fill="url(#gr)"/>
<circle cx="402.20" cy="519.70" r="2.75" fill="url(#gr)"/>
<circle cx="404.20" cy="519.70" r="2.75" fill="url(#gr)"/>
<circle cx="406.20" cy="519.70" r="2.75" fill="url(#gr)"/>
<circle cx="408.20" cy="519.70" r="2.75" fill="url(#gr)"/>
<circle cx="410.20" cy="519.70" r="2.75" fill="url(#gr)"/>
<circle cx="412.20" cy="519.70" r="2.75" fill="url(#gr)"/>
<circle cx="414.20" cy="519.70" r="2.75" fill="url(#gr)"/>
<circle cx="416.20" cy="519.70" r="2.75" fill="url(#gr)"/>
<circle cx="418.20" cy="519.70" r="2.75" fill="url(#gr)"/>
<circle cx="420.20" cy="519.70" r="2.75" fill="url(#gr)"/>
<circle cx="422.20" cy="519.70" r="2.75" fill="url(#gr)"/>
<circle cx="424.20" cy="519.70" r="2.75" fill="url(#gr)"/>
<circle cx="426.20" cy="519.70" r="2.75" fill="url(#gr)"/>
<circle cx="428.20" cy="519.70" r="2.75" fill="url(#gr)"/>
<circle cx="430.20" cy="519.70" r="2.75" fill="url(#gr)"/>
<circle cx="432.20" cy="519.70" r="2.75" fill="url(#gr)"/>
<circle cx="434.20" cy="519.70" r="2.75" fill="url(#gr)"/>
<circle cx="436.20" cy="519.70" r="2.75" fill="url(#gr)"/>
<circle cx="438.20" cy="519.70" r="2.75" fill="url(#gr)"/>
<circle cx="440.20" cy="519.70" r="2.75" fill="url(#gr)"/>
<circle cx="442.20" cy="519.70" r="2.75" fill="url(#gr)"/>
<circle cx="444.20" cy="519.70" r="2.75" fill="url(#gr)"/>
<circle cx="446.20" cy="519.70" r="2.75" fill="url(#gr)"/>
<circle cx="448.20" cy="519.70" r="2.75" fill="url(#gr)"/>
<circle cx="450.20" cy="519.70" r="2.75" fill="url(#gr)"/>
<circle cx="452.20" cy="519.70" r="2.75" fill="url(#gr)"/>
<circle cx="454.20" cy="519.70" r="2.75" fill="url(#gr)"/>
<circle cx="456.20" cy="519.70" r="2.75" fill="url(#gr)"/>
<circle cx="458.20" cy="519.70" r="2.75" fill="url(#gr)"/>
<circle cx="460.20" cy="519.70" r="2.75" fill="url(#gr)"/>
<circle cx="462.20" cy="519.70" r="2.75" fill="url(#gr)"/>
<circle cx="464.20" cy="519.70" r="2.75" fill="url(#gr)"/>
<circle cx="466.20" cy="519.70" r="2.75" fill="url(#gr)"/>
<circle cx="468.20" cy="519.70" r="2.75" fill="url(#gr)"/>
<circle cx="470.20" cy="519.70" r="2.75" fill="url(#gr)"/>
<circle cx="472.20" cy="519.70" r="2.75" fill="url(#gr)"/>
<circle cx="474.20" cy="519.70" r="2.75" fill="url(#gr)"/>
<circle cx="476.20" cy="519.70" r="2.75" fill="url(#gr)"/>
<circle cx="478.20" cy="519.70" r="2.75" fill="url(#gr)"/>
<circle cx="480.20" cy="519.70" r="2.75" fill="url(#gr)"/>
<circle cx="482.20" cy="519.70" r="2.75" fill="url(#gr)"/>
<circle cx="484.20" cy="519.70" r="2.75" fill="url(#gr)"/>
<circle cx="486.20" cy="519.70" r="2.75" fill="url(#gr)"/>
<circle cx="488.20" cy="519.70" r="2.75" fill="url(#gr)"/>
<circle cx="490.20" cy="519.70" r="2.75" fill="url(#gr)"/>
<circle cx="492.20" cy="519.70" r="2.75" fill="url(#gr)"/>
<circle cx="494.20" cy="519.70" r="2.75" fill="url(#gr)"/>
<circle cx="496.20" cy="519.70" r="2.75" fill="url(#gr)"/>
<circle cx="498.20" cy="519.70" r="2.75" fill="url(#gr)"/>
<circle cx="500.20" cy="519.70" r="2.75" fill="url(#gr)"/>
<circle cx="502.20" cy="519.70" r="2.75" fill="url(#gr)"/>
<circle cx="504.20" cy="519.70" r="2.75" fill="url(#gr)"/>
<circle cx="506.20" cy="519.70" r="2.75" fill="url(#gr)"/>
<circle cx="508.20" cy="519.70" r="2.75" fill="url(#gr)"/>
<circle cx="510.20" cy="519.70" r="2.75" fill="url(#gr)"/>
<circle cx="512.20" cy="519.70" r="2.75" fill="url(#gr)"/>
<circle cx="514.20" cy="519.70" r="2.75" fill="url(#gr)"/>
<circle cx="516.20" cy="519.70" r="2.75" fill="url(#gr)"/>
<circle cx="310.20" cy="527.60" r="2.75" fill="url(#gr)"/>
<circle cx="330.40" cy="521.40" r="2.75" fill="url(#gr)"/>
<circle cx="379.50" cy="516.10" r="2.75" fill="url(#gr)"/>
<circle cx="444.40" cy="521.20" r="2.75" fill="url(#gr)"/>
<circle cx="454.50" cy="516.10" r="2.75" fill="url(#gr)"/>
<circle cx="508.60" cy="516.10" r="2.75" fill="url(#gr)"/>
<circle cx="513.50" cy="519.60" r="2.75" fill="url(#gr)"/>
<circle cx="310.90" cy="491.80" r="2.3" fill="url(#gg)"/>
<circle cx="312.65" cy="492.92" r="2.3" fill="url(#gg)"/>
<circle cx="314.40" cy="493.91" r="2.3" fill="url(#gg)"/>
<circle cx="316.15" cy="492.62" r="2.3" fill="url(#gg)"/>
<circle cx="317.90" cy="493.07" r="2.3" fill="url(#gg)"/>
<circle cx="319.65" cy="492.52" r="2.3" fill="url(#gg)"/>
<circle cx="321.40" cy="492.06" r="2.3" fill="url(#gg)"/>
<circle cx="323.15" cy="493.22" r="2.3" fill="url(#gg)"/>
<circle cx="324.90" cy="492.72" r="2.3" fill="url(#gg)"/>
<circle cx="326.65" cy="493.52" r="2.3" fill="url(#gg)"/>
<circle cx="328.40" cy="492.61" r="2.3" fill="url(#gg)"/>
<circle cx="330.15" cy="492.26" r="2.3" fill="url(#gg)"/>
<circle cx="331.90" cy="492.62" r="2.3" fill="url(#gg)"/>
<circle cx="333.65" cy="493.45" r="2.3" fill="url(#gg)"/>
<circle cx="335.40" cy="492.54" r="2.3" fill="url(#gg)"/>
<circle cx="337.15" cy="493.06" r="2.3" fill="url(#gg)"/>
<circle cx="338.90" cy="493.86" r="2.3" fill="url(#gg)"/>
<circle cx="340.65" cy="494.18" r="2.3" fill="url(#gg)"/>
<circle cx="342.40" cy="493.13" r="2.3" fill="url(#gg)"/>
<circle cx="344.15" cy="492.57" r="2.3" fill="url(#gg)"/>
<circle cx="345.90" cy="493.72" r="2.3" fill="url(#gg)"/>
<circle cx="347.65" cy="492.41" r="2.3" fill="url(#gg)"/>
<circle cx="349.40" cy="494.21" r="2.3" fill="url(#gg)"/>
<circle cx="351.15" cy="493.25" r="2.3" fill="url(#gg)"/>
<circle cx="352.90" cy="492.73" r="2.3" fill="url(#gg)"/>
<circle cx="354.65" cy="492.29" r="2.3" fill="url(#gg)"/>
<circle cx="356.40" cy="492.41" r="2.3" fill="url(#gg)"/>
<circle cx="358.15" cy="493.44" r="2.3" fill="url(#gg)"/>
<circle cx="359.90" cy="492.66" r="2.3" fill="url(#gg)"/>
<circle cx="361.65" cy="493.72" r="2.3" fill="url(#gg)"/>
<circle cx="363.40" cy="493.88" r="2.3" fill="url(#gg)"/>
<circle cx="365.15" cy="493.13" r="2.3" fill="url(#gg)"/>
<circle cx="366.90" cy="493.06" r="2.3" fill="url(#gg)"/>
<circle cx="368.65" cy="491.97" r="2.3" fill="url(#gg)"/>
<circle cx="370.40" cy="492.08" r="2.3" fill="url(#gg)"/>
<circle cx="372.15" cy="492.71" r="2.3" fill="url(#gg)"/>
<circle cx="373.90" cy="493.90" r="2.3" fill="url(#gg)"/>
<circle cx="375.65" cy="493.50" r="2.3" fill="url(#gg)"/>
<circle cx="377.40" cy="493.02" r="2.3" fill="url(#gg)"/>
<circle cx="379.15" cy="493.12" r="2.3" fill="url(#gg)"/>
<circle cx="380.90" cy="492.67" r="2.3" fill="url(#gg)"/>
<circle cx="382.65" cy="492.52" r="2.3" fill="url(#gg)"/>
<circle cx="384.40" cy="493.78" r="2.3" fill="url(#gg)"/>
<circle cx="386.15" cy="493.94" r="2.3" fill="url(#gg)"/>
<circle cx="387.90" cy="493.17" r="2.3" fill="url(#gg)"/>
<circle cx="389.65" cy="493.48" r="2.3" fill="url(#gg)"/>
<circle cx="391.40" cy="493.01" r="2.3" fill="url(#gg)"/>
<circle cx="393.15" cy="493.43" r="2.3" fill="url(#gg)"/>
<circle cx="394.90" cy="493.30" r="2.3" fill="url(#gg)"/>
<circle cx="396.65" cy="492.87" r="2.3" fill="url(#gg)"/>
<circle cx="398.40" cy="494.45" r="2.3" fill="url(#gg)"/>
<circle cx="400.15" cy="492.94" r="2.3" fill="url(#gg)"/>
<circle cx="401.90" cy="493.20" r="2.3" fill="url(#gg)"/>
<circle cx="403.65" cy="493.42" r="2.3" fill="url(#gg)"/>
<circle cx="405.40" cy="492.13" r="2.3" fill="url(#gg)"/>
<circle cx="407.15" cy="499.76" r="2.3" fill="url(#gg)"/>
<circle cx="408.90" cy="499.13" r="2.3" fill="url(#gg)"/>
<circle cx="410.65" cy="500.43" r="2.3" fill="url(#gg)"/>
<circle cx="412.40" cy="500.74" r="2.3" fill="url(#gg)"/>
<circle cx="414.15" cy="500.51" r="2.3" fill="url(#gg)"/>
<circle cx="415.90" cy="501.13" r="2.3" fill="url(#gg)"/>
<circle cx="417.65" cy="500.16" r="2.3" fill="url(#gg)"/>
<circle cx="419.40" cy="500.85" r="2.3" fill="url(#gg)"/>
<circle cx="421.15" cy="500.62" r="2.3" fill="url(#gg)"/>
<circle cx="422.90" cy="500.52" r="2.3" fill="url(#gg)"/>
<circle cx="424.65" cy="500.18" r="2.3" fill="url(#gg)"/>
<circle cx="426.40" cy="500.73" r="2.3" fill="url(#gg)"/>
<circle cx="428.15" cy="500.75" r="2.3" fill="url(#gg)"/>
<circle cx="429.90" cy="499.73" r="2.3" fill="url(#gg)"/>
<circle cx="431.65" cy="499.88" r="2.3" fill="url(#gg)"/>
<circle cx="433.40" cy="499.31" r="2.3" fill="url(#gg)"/>
<circle cx="435.15" cy="500.46" r="2.3" fill="url(#gg)"/>
<circle cx="436.90" cy="500.36" r="2.3" fill="url(#gg)"/>
<circle cx="438.65" cy="500.99" r="2.3" fill="url(#gg)"/>
<circle cx="440.40" cy="500.68" r="2.3" fill="url(#gg)"/>
<circle cx="442.15" cy="499.71" r="2.3" fill="url(#gg)"/>
<circle cx="443.90" cy="499.89" r="2.3" fill="url(#gg)"/>
<circle cx="445.65" cy="500.40" r="2.3" fill="url(#gg)"/>
<circle cx="447.40" cy="499.24" r="2.3" fill="url(#gg)"/>
<circle cx="449.15" cy="500.03" r="2.3" fill="url(#gg)"/>
<circle cx="450.90" cy="499.50" r="2.3" fill="url(#gg)"/>
<circle cx="452.65" cy="499.41" r="2.3" fill="url(#gg)"/>
<circle cx="454.40" cy="499.31" r="2.3" fill="url(#gg)"/>
<circle cx="456.15" cy="500.58" r="2.3" fill="url(#gg)"/>
<circle cx="457.90" cy="499.43" r="2.3" fill="url(#gg)"/>
<circle cx="459.65" cy="499.65" r="2.3" fill="url(#gg)"/>
<circle cx="461.40" cy="499.90" r="2.3" fill="url(#gg)"/>
<circle cx="463.15" cy="500.77" r="2.3" fill="url(#gg)"/>
<circle cx="464.90" cy="499.35" r="2.3" fill="url(#gg)"/>
<circle cx="466.65" cy="500.01" r="2.3" fill="url(#gg)"/>
<circle cx="468.40" cy="500.19" r="2.3" fill="url(#gg)"/>
<circle cx="470.15" cy="500.79" r="2.3" fill="url(#gg)"/>
<circle cx="471.90" cy="500.67" r="2.3" fill="url(#gg)"/>
<circle cx="473.65" cy="500.76" r="2.3" fill="url(#gg)"/>
<circle cx="475.40" cy="499.70" r="2.3" fill="url(#gg)"/>
<circle cx="477.15" cy="499.95" r="2.3" fill="url(#gg)"/>
<circle cx="478.90" cy="499.85" r="2.3" fill="url(#gg)"/>
<circle cx="480.65" cy="500.79" r="2.3" fill="url(#gg)"/>
<circle cx="482.40" cy="500.92" r="2.3" fill="url(#gg)"/>
<circle cx="484.15" cy="499.47" r="2.3" fill="url(#gg)"/>
<circle cx="485.90" cy="499.52" r="2.3" fill="url(#gg)"/>
<circle cx="487.65" cy="499.62" r="2.3" fill="url(#gg)"/>
<circle cx="489.40" cy="499.62" r="2.3" fill="url(#gg)"/>
<circle cx="491.15" cy="500.07" r="2.3" fill="url(#gg)"/>
<circle cx="492.90" cy="500.26" r="2.3" fill="url(#gg)"/>
<circle cx="494.65" cy="499.67" r="2.3" fill="url(#gg)"/>
<circle cx="496.40" cy="499.21" r="2.3" fill="url(#gg)"/>
<circle cx="498.15" cy="499.96" r="2.3" fill="url(#gg)"/>
<circle cx="499.90" cy="499.89" r="2.3" fill="url(#gg)"/>
<circle cx="501.65" cy="500.36" r="2.3" fill="url(#gg)"/>
<circle cx="503.40" cy="501.40" r="2.3" fill="url(#gg)"/>
<circle cx="505.15" cy="501.53" r="2.3" fill="url(#gg)"/>
<circle cx="506.90" cy="501.80" r="2.3" fill="url(#gg)"/>
<circle cx="508.65" cy="502.06" r="2.3" fill="url(#gg)"/>
<circle cx="510.40" cy="501.67" r="2.3" fill="url(#gg)"/>
<circle cx="512.15" cy="499.91" r="2.3" fill="url(#gg)"/>
<circle cx="513.90" cy="501.02" r="2.3" fill="url(#gg)"/>
<circle cx="515.65" cy="500.65" r="2.3" fill="url(#gg)"/>
<circle cx="431.30" cy="494.60" r="2.7" fill="url(#gg)"/>
</g>
<rect x="310.00" y="436.80" width="206.80" height="166.50" fill="none" stroke="#000" stroke-width="1.35"/>
<line x1="310.00" y1="603.30" x2="310.00" y2="600.00" stroke="#000" stroke-width="1.1" />
<line x1="351.40" y1="603.30" x2="351.40" y2="600.00" stroke="#000" stroke-width="1.1" />
<line x1="392.80" y1="603.30" x2="392.80" y2="600.00" stroke="#000" stroke-width="1.1" />
<line x1="434.20" y1="603.30" x2="434.20" y2="600.00" stroke="#000" stroke-width="1.1" />
<line x1="475.60" y1="603.30" x2="475.60" y2="600.00" stroke="#000" stroke-width="1.1" />
<line x1="517.00" y1="603.30" x2="517.00" y2="600.00" stroke="#000" stroke-width="1.1" />
<line x1="330.70" y1="603.30" x2="330.70" y2="601.60" stroke="#000" stroke-width="1.1" />
<line x1="372.10" y1="603.30" x2="372.10" y2="601.60" stroke="#000" stroke-width="1.1" />
<line x1="413.50" y1="603.30" x2="413.50" y2="601.60" stroke="#000" stroke-width="1.1" />
<line x1="454.90" y1="603.30" x2="454.90" y2="601.60" stroke="#000" stroke-width="1.1" />
<line x1="496.30" y1="603.30" x2="496.30" y2="601.60" stroke="#000" stroke-width="1.1" />
<line x1="310.00" y1="603.30" x2="313.30" y2="603.30" stroke="#000" stroke-width="1.1" />
<line x1="310.00" y1="547.80" x2="313.30" y2="547.80" stroke="#000" stroke-width="1.1" />
<line x1="310.00" y1="492.30" x2="313.30" y2="492.30" stroke="#000" stroke-width="1.1" />
<line x1="310.00" y1="436.80" x2="313.30" y2="436.80" stroke="#000" stroke-width="1.1" />
<line x1="310.00" y1="575.55" x2="311.70" y2="575.55" stroke="#000" stroke-width="1.1" />
<line x1="310.00" y1="520.05" x2="311.70" y2="520.05" stroke="#000" stroke-width="1.1" />
<line x1="310.00" y1="464.55" x2="311.70" y2="464.55" stroke="#000" stroke-width="1.1" />
<line x1="516.80" y1="603.30" x2="513.50" y2="603.30" stroke="#000" stroke-width="1.1" />
<line x1="516.80" y1="561.67" x2="513.50" y2="561.67" stroke="#000" stroke-width="1.1" />
<line x1="516.80" y1="520.05" x2="513.50" y2="520.05" stroke="#000" stroke-width="1.1" />
<line x1="516.80" y1="478.42" x2="513.50" y2="478.42" stroke="#000" stroke-width="1.1" />
<line x1="516.80" y1="436.80" x2="513.50" y2="436.80" stroke="#000" stroke-width="1.1" />
<line x1="516.80" y1="582.49" x2="515.10" y2="582.49" stroke="#000" stroke-width="1.1" />
<line x1="516.80" y1="540.86" x2="515.10" y2="540.86" stroke="#000" stroke-width="1.1" />
<line x1="516.80" y1="499.24" x2="515.10" y2="499.24" stroke="#000" stroke-width="1.1" />
<line x1="516.80" y1="457.61" x2="515.10" y2="457.61" stroke="#000" stroke-width="1.1" />
<text x="310.00" y="615.60" font-size="10.7" text-anchor="middle" fill="#111" font-weight="bold" >0</text>
<text x="351.40" y="615.60" font-size="10.7" text-anchor="middle" fill="#111" font-weight="bold" >2000</text>
<text x="392.80" y="615.60" font-size="10.7" text-anchor="middle" fill="#111" font-weight="bold" >4000</text>
<text x="434.20" y="615.60" font-size="10.7" text-anchor="middle" fill="#111" font-weight="bold" >6000</text>
<text x="475.60" y="615.60" font-size="10.7" text-anchor="middle" fill="#111" font-weight="bold" >8000</text>
<text x="517.00" y="615.60" font-size="10.7" text-anchor="middle" fill="#111" font-weight="bold" >10000</text>
<text x="306.00" y="606.80" font-size="10.7" text-anchor="end" fill="#111" font-weight="bold" >80</text>
<text x="306.00" y="551.30" font-size="10.7" text-anchor="end" fill="#111" font-weight="bold" >90</text>
<text x="306.00" y="495.80" font-size="10.7" text-anchor="end" fill="#111" font-weight="bold" >100</text>
<text x="306.00" y="440.30" font-size="10.7" text-anchor="end" fill="#111" font-weight="bold" >110</text>
<text x="521.20" y="606.80" font-size="10.7" text-anchor="start" fill="#111" font-weight="bold" >90</text>
<text x="521.20" y="565.17" font-size="10.7" text-anchor="start" fill="#111" font-weight="bold" >95</text>
<text x="521.20" y="523.55" font-size="10.7" text-anchor="start" fill="#111" font-weight="bold" >100</text>
<text x="521.20" y="481.92" font-size="10.7" text-anchor="start" fill="#111" font-weight="bold" >105</text>
<text x="521.20" y="440.30" font-size="10.7" text-anchor="start" fill="#111" font-weight="bold" >110</text>
<text x="413.50" y="632.00" font-size="14" text-anchor="middle" fill="#111" font-weight="bold" >Cycle number</text>
<text x="287.20" y="525.30" font-size="14" text-anchor="middle" fill="#111" font-weight="bold" transform="rotate(-90 287.20 525.30)" >Capacitance retention (%)</text>
<text x="539.40" y="521.00" font-size="14" text-anchor="middle" fill="#111" font-weight="bold" transform="rotate(90 539.40 521.00)" >Coulombic efficiency (%)</text>
<text x="266.90" y="443.00" font-size="25" text-anchor="start" fill="#111" font-weight="bold" >F</text>
<circle cx="322.20" cy="459.00" r="2.7" fill="url(#gg)"/>
<circle cx="322.20" cy="472.50" r="2.7" fill="url(#gr)"/>
<text x="328.50" y="460.50" font-size="11" text-anchor="start" fill="#111" font-weight="bold" >Specific capacity retention (%)</text>
<text x="328.50" y="474.60" font-size="11" text-anchor="start" fill="#111" font-weight="bold" >Coulombic efficiency (%)</text>
<line x1="454.10" y1="498.20" x2="476.00" y2="489.60" stroke="#111" stroke-width="1.2" />
<polygon points="482,487.3 473.5,487.6 476.5,492.5" fill="#111"/>
<text x="473.00" y="486.30" font-size="11" text-anchor="start" fill="#111" font-weight="bold" >98.4%</text>
</svg>
</body></html>
